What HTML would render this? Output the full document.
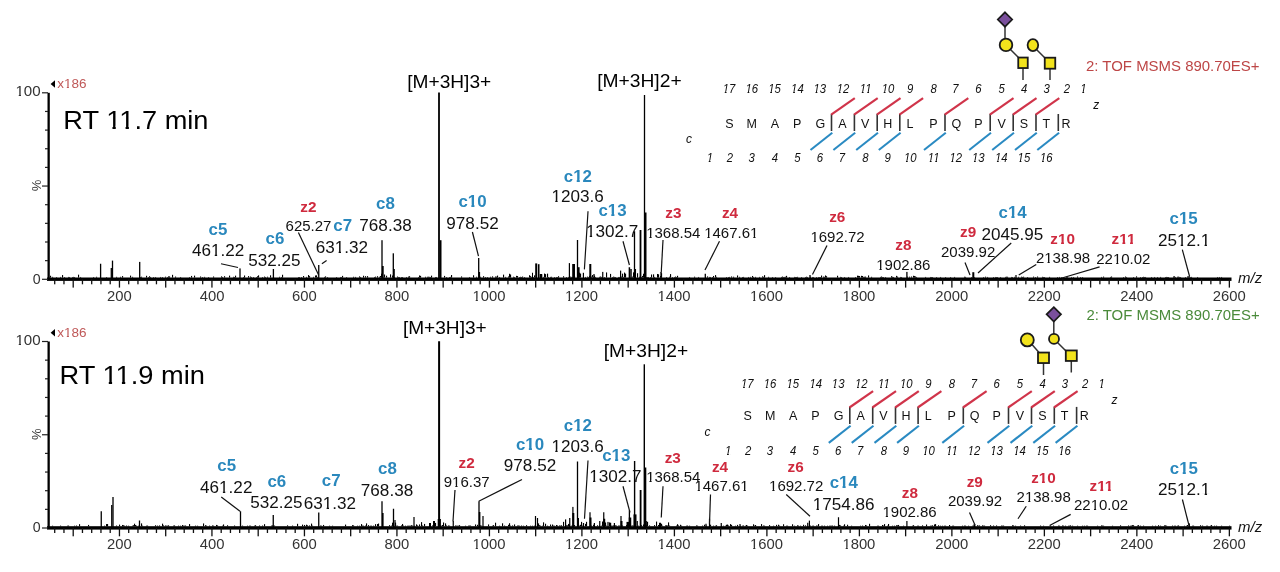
<!DOCTYPE html><html><head><meta charset="utf-8"><style>svg{filter:blur(0.3px)}html,body{margin:0;padding:0;background:#fff;width:1280px;height:572px;overflow:hidden;position:relative}</style></head><body><svg width="1280" height="572" viewBox="0 0 1280 572" style="position:absolute;left:0;top:0;font-family:'Liberation Sans',sans-serif">
<rect width="1280" height="572" fill="#fff"/>
<defs><mask id="mtx1" maskUnits="userSpaceOnUse" x="-50" y="-50" width="400" height="100"><rect x="-50" y="-50" width="400" height="100" fill="#fff"/><rect x="-0.22" y="-2.15" width="3.47" height="3.35" fill="#000"/><rect x="5.41" y="-2.15" width="2.73" height="3.35" fill="#000"/></mask><mask id="mtx2" maskUnits="userSpaceOnUse" x="-50" y="-50" width="400" height="100"><rect x="-50" y="-50" width="400" height="100" fill="#fff"/><rect x="-0.22" y="-2.15" width="3.47" height="3.35" fill="#000"/><rect x="5.41" y="-2.15" width="2.73" height="3.35" fill="#000"/></mask><mask id="mtx3" maskUnits="userSpaceOnUse" x="-50" y="-50" width="400" height="100"><rect x="-50" y="-50" width="400" height="100" fill="#fff"/><rect x="-0.22" y="-2.15" width="3.47" height="3.35" fill="#000"/><rect x="5.41" y="-2.15" width="2.73" height="3.35" fill="#000"/></mask><mask id="mtx4" maskUnits="userSpaceOnUse" x="-50" y="-50" width="400" height="100"><rect x="-50" y="-50" width="400" height="100" fill="#fff"/><rect x="-0.22" y="-2.15" width="3.47" height="3.35" fill="#000"/><rect x="5.41" y="-2.15" width="2.73" height="3.35" fill="#000"/></mask><mask id="mtx5" maskUnits="userSpaceOnUse" x="-50" y="-50" width="400" height="100"><rect x="-50" y="-50" width="400" height="100" fill="#fff"/><rect x="-0.22" y="-2.15" width="3.47" height="3.35" fill="#000"/><rect x="5.41" y="-2.15" width="2.73" height="3.35" fill="#000"/></mask><mask id="mtx6" maskUnits="userSpaceOnUse" x="-50" y="-50" width="400" height="100"><rect x="-50" y="-50" width="400" height="100" fill="#fff"/><rect x="18.40" y="-2.31" width="4.00" height="3.51" fill="#000"/><rect x="24.73" y="-2.31" width="3.16" height="3.51" fill="#000"/></mask><mask id="mtx7" maskUnits="userSpaceOnUse" x="-50" y="-50" width="400" height="100"><rect x="-50" y="-50" width="400" height="100" fill="#fff"/><rect x="18.40" y="-2.31" width="4.00" height="3.51" fill="#000"/><rect x="24.73" y="-2.31" width="3.16" height="3.51" fill="#000"/></mask><mask id="mtx8" maskUnits="userSpaceOnUse" x="-50" y="-50" width="400" height="100"><rect x="-50" y="-50" width="400" height="100" fill="#fff"/><rect x="-0.25" y="-2.31" width="4.00" height="3.51" fill="#000"/><rect x="6.08" y="-2.31" width="3.16" height="3.51" fill="#000"/></mask><mask id="mtx9" maskUnits="userSpaceOnUse" x="-50" y="-50" width="400" height="100"><rect x="-50" y="-50" width="400" height="100" fill="#fff"/><rect x="-0.25" y="-2.31" width="4.00" height="3.51" fill="#000"/><rect x="6.08" y="-2.31" width="3.16" height="3.51" fill="#000"/></mask><mask id="mtx10" maskUnits="userSpaceOnUse" x="-50" y="-50" width="400" height="100"><rect x="-50" y="-50" width="400" height="100" fill="#fff"/><rect x="-0.22" y="-2.17" width="3.52" height="3.37" fill="#000"/><rect x="5.48" y="-2.17" width="2.77" height="3.37" fill="#000"/></mask><mask id="mtx11" maskUnits="userSpaceOnUse" x="-50" y="-50" width="400" height="100"><rect x="-50" y="-50" width="400" height="100" fill="#fff"/><rect x="-0.22" y="-2.17" width="3.52" height="3.37" fill="#000"/><rect x="5.48" y="-2.17" width="2.77" height="3.37" fill="#000"/><rect x="45.65" y="-2.17" width="3.52" height="3.37" fill="#000"/><rect x="51.35" y="-2.17" width="2.77" height="3.37" fill="#000"/></mask><mask id="mtx12" maskUnits="userSpaceOnUse" x="-50" y="-50" width="400" height="100"><rect x="-50" y="-50" width="400" height="100" fill="#fff"/><rect x="-0.22" y="-2.17" width="3.52" height="3.37" fill="#000"/><rect x="5.48" y="-2.17" width="2.77" height="3.37" fill="#000"/></mask><mask id="mtx13" maskUnits="userSpaceOnUse" x="-50" y="-50" width="400" height="100"><rect x="-50" y="-50" width="400" height="100" fill="#fff"/><rect x="-0.22" y="-2.17" width="3.52" height="3.37" fill="#000"/><rect x="5.48" y="-2.17" width="2.77" height="3.37" fill="#000"/></mask><mask id="mtx14" maskUnits="userSpaceOnUse" x="-50" y="-50" width="400" height="100"><rect x="-50" y="-50" width="400" height="100" fill="#fff"/><rect x="8.10" y="-2.17" width="3.53" height="3.37" fill="#000"/><rect x="13.80" y="-2.17" width="2.78" height="3.37" fill="#000"/></mask><mask id="mtx15" maskUnits="userSpaceOnUse" x="-50" y="-50" width="400" height="100"><rect x="-50" y="-50" width="400" height="100" fill="#fff"/><rect x="16.45" y="-2.17" width="3.53" height="3.37" fill="#000"/><rect x="22.15" y="-2.17" width="2.78" height="3.37" fill="#000"/></mask><mask id="mtx16" maskUnits="userSpaceOnUse" x="-50" y="-50" width="400" height="100"><rect x="-50" y="-50" width="400" height="100" fill="#fff"/><rect x="18.40" y="-2.31" width="4.00" height="3.51" fill="#000"/><rect x="24.73" y="-2.31" width="3.16" height="3.51" fill="#000"/><rect x="41.75" y="-2.31" width="4.00" height="3.51" fill="#000"/><rect x="48.08" y="-2.31" width="3.16" height="3.51" fill="#000"/></mask><mask id="mtx17" maskUnits="userSpaceOnUse" x="-50" y="-50" width="400" height="100"><rect x="-50" y="-50" width="400" height="100" fill="#fff"/><rect x="8.97" y="-2.77" width="3.94" height="3.97" fill="#000"/><rect x="16.01" y="-2.77" width="3.10" height="3.97" fill="#000"/></mask><mask id="mtx18" maskUnits="userSpaceOnUse" x="-50" y="-50" width="400" height="100"><rect x="-50" y="-50" width="400" height="100" fill="#fff"/><rect x="8.97" y="-2.77" width="3.94" height="3.97" fill="#000"/><rect x="16.01" y="-2.77" width="3.10" height="3.97" fill="#000"/></mask><mask id="mtx19" maskUnits="userSpaceOnUse" x="-50" y="-50" width="400" height="100"><rect x="-50" y="-50" width="400" height="100" fill="#fff"/><rect x="8.97" y="-2.77" width="3.94" height="3.97" fill="#000"/><rect x="16.01" y="-2.77" width="3.10" height="3.97" fill="#000"/></mask><mask id="mtx20" maskUnits="userSpaceOnUse" x="-50" y="-50" width="400" height="100"><rect x="-50" y="-50" width="400" height="100" fill="#fff"/><rect x="8.97" y="-2.77" width="3.94" height="3.97" fill="#000"/><rect x="16.01" y="-2.77" width="3.10" height="3.97" fill="#000"/></mask><mask id="mtx21" maskUnits="userSpaceOnUse" x="-50" y="-50" width="400" height="100"><rect x="-50" y="-50" width="400" height="100" fill="#fff"/><rect x="8.97" y="-2.77" width="3.94" height="3.97" fill="#000"/><rect x="16.01" y="-2.77" width="3.10" height="3.97" fill="#000"/></mask><mask id="mtx22" maskUnits="userSpaceOnUse" x="-50" y="-50" width="400" height="100"><rect x="-50" y="-50" width="400" height="100" fill="#fff"/><rect x="7.26" y="-2.61" width="3.53" height="3.81" fill="#000"/><rect x="13.68" y="-2.61" width="2.76" height="3.81" fill="#000"/></mask><mask id="mtx23" maskUnits="userSpaceOnUse" x="-50" y="-50" width="400" height="100"><rect x="-50" y="-50" width="400" height="100" fill="#fff"/><rect x="7.26" y="-2.61" width="3.53" height="3.81" fill="#000"/><rect x="13.68" y="-2.61" width="2.76" height="3.81" fill="#000"/><rect x="14.91" y="-2.61" width="3.53" height="3.81" fill="#000"/><rect x="21.33" y="-2.61" width="2.76" height="3.81" fill="#000"/></mask><mask id="mtx24" maskUnits="userSpaceOnUse" x="-50" y="-50" width="400" height="100"><rect x="-50" y="-50" width="400" height="100" fill="#fff"/><rect x="-0.22" y="-2.15" width="3.47" height="3.35" fill="#000"/><rect x="5.41" y="-2.15" width="2.73" height="3.35" fill="#000"/></mask><mask id="mtx25" maskUnits="userSpaceOnUse" x="-50" y="-50" width="400" height="100"><rect x="-50" y="-50" width="400" height="100" fill="#fff"/><rect x="-0.22" y="-2.15" width="3.47" height="3.35" fill="#000"/><rect x="5.41" y="-2.15" width="2.73" height="3.35" fill="#000"/></mask><mask id="mtx26" maskUnits="userSpaceOnUse" x="-50" y="-50" width="400" height="100"><rect x="-50" y="-50" width="400" height="100" fill="#fff"/><rect x="-0.22" y="-2.15" width="3.47" height="3.35" fill="#000"/><rect x="5.41" y="-2.15" width="2.73" height="3.35" fill="#000"/></mask><mask id="mtx27" maskUnits="userSpaceOnUse" x="-50" y="-50" width="400" height="100"><rect x="-50" y="-50" width="400" height="100" fill="#fff"/><rect x="-0.22" y="-2.15" width="3.47" height="3.35" fill="#000"/><rect x="5.41" y="-2.15" width="2.73" height="3.35" fill="#000"/></mask><mask id="mtx28" maskUnits="userSpaceOnUse" x="-50" y="-50" width="400" height="100"><rect x="-50" y="-50" width="400" height="100" fill="#fff"/><rect x="-0.22" y="-2.15" width="3.47" height="3.35" fill="#000"/><rect x="5.41" y="-2.15" width="2.73" height="3.35" fill="#000"/></mask><mask id="mtx29" maskUnits="userSpaceOnUse" x="-50" y="-50" width="400" height="100"><rect x="-50" y="-50" width="400" height="100" fill="#fff"/><rect x="18.40" y="-2.31" width="4.00" height="3.51" fill="#000"/><rect x="24.73" y="-2.31" width="3.16" height="3.51" fill="#000"/></mask><mask id="mtx30" maskUnits="userSpaceOnUse" x="-50" y="-50" width="400" height="100"><rect x="-50" y="-50" width="400" height="100" fill="#fff"/><rect x="18.40" y="-2.31" width="4.00" height="3.51" fill="#000"/><rect x="24.73" y="-2.31" width="3.16" height="3.51" fill="#000"/></mask><mask id="mtx31" maskUnits="userSpaceOnUse" x="-50" y="-50" width="400" height="100"><rect x="-50" y="-50" width="400" height="100" fill="#fff"/><rect x="8.10" y="-2.17" width="3.53" height="3.37" fill="#000"/><rect x="13.80" y="-2.17" width="2.78" height="3.37" fill="#000"/></mask><mask id="mtx32" maskUnits="userSpaceOnUse" x="-50" y="-50" width="400" height="100"><rect x="-50" y="-50" width="400" height="100" fill="#fff"/><rect x="-0.25" y="-2.31" width="4.00" height="3.51" fill="#000"/><rect x="6.08" y="-2.31" width="3.16" height="3.51" fill="#000"/></mask><mask id="mtx33" maskUnits="userSpaceOnUse" x="-50" y="-50" width="400" height="100"><rect x="-50" y="-50" width="400" height="100" fill="#fff"/><rect x="-0.25" y="-2.31" width="4.00" height="3.51" fill="#000"/><rect x="6.08" y="-2.31" width="3.16" height="3.51" fill="#000"/></mask><mask id="mtx34" maskUnits="userSpaceOnUse" x="-50" y="-50" width="400" height="100"><rect x="-50" y="-50" width="400" height="100" fill="#fff"/><rect x="-0.22" y="-2.17" width="3.52" height="3.37" fill="#000"/><rect x="5.48" y="-2.17" width="2.77" height="3.37" fill="#000"/></mask><mask id="mtx35" maskUnits="userSpaceOnUse" x="-50" y="-50" width="400" height="100"><rect x="-50" y="-50" width="400" height="100" fill="#fff"/><rect x="-0.22" y="-2.17" width="3.52" height="3.37" fill="#000"/><rect x="5.48" y="-2.17" width="2.77" height="3.37" fill="#000"/><rect x="45.65" y="-2.17" width="3.52" height="3.37" fill="#000"/><rect x="51.35" y="-2.17" width="2.77" height="3.37" fill="#000"/></mask><mask id="mtx36" maskUnits="userSpaceOnUse" x="-50" y="-50" width="400" height="100"><rect x="-50" y="-50" width="400" height="100" fill="#fff"/><rect x="-0.22" y="-2.17" width="3.52" height="3.37" fill="#000"/><rect x="5.48" y="-2.17" width="2.77" height="3.37" fill="#000"/></mask><mask id="mtx37" maskUnits="userSpaceOnUse" x="-50" y="-50" width="400" height="100"><rect x="-50" y="-50" width="400" height="100" fill="#fff"/><rect x="-0.25" y="-2.31" width="4.00" height="3.51" fill="#000"/><rect x="6.08" y="-2.31" width="3.16" height="3.51" fill="#000"/></mask><mask id="mtx38" maskUnits="userSpaceOnUse" x="-50" y="-50" width="400" height="100"><rect x="-50" y="-50" width="400" height="100" fill="#fff"/><rect x="-0.22" y="-2.17" width="3.52" height="3.37" fill="#000"/><rect x="5.48" y="-2.17" width="2.77" height="3.37" fill="#000"/></mask><mask id="mtx39" maskUnits="userSpaceOnUse" x="-50" y="-50" width="400" height="100"><rect x="-50" y="-50" width="400" height="100" fill="#fff"/><rect x="8.10" y="-2.17" width="3.53" height="3.37" fill="#000"/><rect x="13.80" y="-2.17" width="2.78" height="3.37" fill="#000"/></mask><mask id="mtx40" maskUnits="userSpaceOnUse" x="-50" y="-50" width="400" height="100"><rect x="-50" y="-50" width="400" height="100" fill="#fff"/><rect x="16.45" y="-2.17" width="3.53" height="3.37" fill="#000"/><rect x="22.15" y="-2.17" width="2.78" height="3.37" fill="#000"/></mask><mask id="mtx41" maskUnits="userSpaceOnUse" x="-50" y="-50" width="400" height="100"><rect x="-50" y="-50" width="400" height="100" fill="#fff"/><rect x="18.40" y="-2.31" width="4.00" height="3.51" fill="#000"/><rect x="24.73" y="-2.31" width="3.16" height="3.51" fill="#000"/><rect x="41.75" y="-2.31" width="4.00" height="3.51" fill="#000"/><rect x="48.08" y="-2.31" width="3.16" height="3.51" fill="#000"/></mask><mask id="mtx42" maskUnits="userSpaceOnUse" x="-50" y="-50" width="400" height="100"><rect x="-50" y="-50" width="400" height="100" fill="#fff"/><rect x="8.97" y="-2.77" width="3.94" height="3.97" fill="#000"/><rect x="16.01" y="-2.77" width="3.10" height="3.97" fill="#000"/></mask><mask id="mtx43" maskUnits="userSpaceOnUse" x="-50" y="-50" width="400" height="100"><rect x="-50" y="-50" width="400" height="100" fill="#fff"/><rect x="8.97" y="-2.77" width="3.94" height="3.97" fill="#000"/><rect x="16.01" y="-2.77" width="3.10" height="3.97" fill="#000"/></mask><mask id="mtx44" maskUnits="userSpaceOnUse" x="-50" y="-50" width="400" height="100"><rect x="-50" y="-50" width="400" height="100" fill="#fff"/><rect x="8.97" y="-2.77" width="3.94" height="3.97" fill="#000"/><rect x="16.01" y="-2.77" width="3.10" height="3.97" fill="#000"/></mask><mask id="mtx45" maskUnits="userSpaceOnUse" x="-50" y="-50" width="400" height="100"><rect x="-50" y="-50" width="400" height="100" fill="#fff"/><rect x="8.97" y="-2.77" width="3.94" height="3.97" fill="#000"/><rect x="16.01" y="-2.77" width="3.10" height="3.97" fill="#000"/></mask><mask id="mtx46" maskUnits="userSpaceOnUse" x="-50" y="-50" width="400" height="100"><rect x="-50" y="-50" width="400" height="100" fill="#fff"/><rect x="8.97" y="-2.77" width="3.94" height="3.97" fill="#000"/><rect x="16.01" y="-2.77" width="3.10" height="3.97" fill="#000"/></mask><mask id="mtx47" maskUnits="userSpaceOnUse" x="-50" y="-50" width="400" height="100"><rect x="-50" y="-50" width="400" height="100" fill="#fff"/><rect x="7.26" y="-2.61" width="3.53" height="3.81" fill="#000"/><rect x="13.68" y="-2.61" width="2.76" height="3.81" fill="#000"/></mask><mask id="mtx48" maskUnits="userSpaceOnUse" x="-50" y="-50" width="400" height="100"><rect x="-50" y="-50" width="400" height="100" fill="#fff"/><rect x="7.26" y="-2.61" width="3.53" height="3.81" fill="#000"/><rect x="13.68" y="-2.61" width="2.76" height="3.81" fill="#000"/><rect x="14.91" y="-2.61" width="3.53" height="3.81" fill="#000"/><rect x="21.33" y="-2.61" width="2.76" height="3.81" fill="#000"/></mask><mask id="mtx49" maskUnits="userSpaceOnUse" x="-50" y="-50" width="400" height="100"><rect x="-50" y="-50" width="400" height="100" fill="#fff"/><rect x="38.97" y="-2.95" width="6.17" height="4.15" fill="#000"/><rect x="48.17" y="-2.95" width="4.92" height="4.15" fill="#000"/><rect x="51.02" y="-2.95" width="6.17" height="4.15" fill="#000"/><rect x="60.22" y="-2.95" width="4.92" height="4.15" fill="#000"/></mask><mask id="mtx50" maskUnits="userSpaceOnUse" x="-50" y="-50" width="400" height="100"><rect x="-50" y="-50" width="400" height="100" fill="#fff"/><rect x="38.96" y="-2.95" width="6.17" height="4.15" fill="#000"/><rect x="48.16" y="-2.95" width="4.92" height="4.15" fill="#000"/><rect x="51.00" y="-2.95" width="6.17" height="4.15" fill="#000"/><rect x="60.20" y="-2.95" width="4.92" height="4.15" fill="#000"/></mask><mask id="mtx51" maskUnits="userSpaceOnUse" x="-50" y="-50" width="400" height="100"><rect x="-50" y="-50" width="400" height="100" fill="#fff"/><rect x="-0.76" y="-1.98" width="3.01" height="3.18" fill="#000"/><rect x="4.23" y="-1.98" width="2.26" height="3.18" fill="#000"/></mask><mask id="mtx52" maskUnits="userSpaceOnUse" x="-50" y="-50" width="400" height="100"><rect x="-50" y="-50" width="400" height="100" fill="#fff"/><rect x="-0.76" y="-1.98" width="3.01" height="3.18" fill="#000"/><rect x="4.23" y="-1.98" width="2.26" height="3.18" fill="#000"/></mask><mask id="mtx53" maskUnits="userSpaceOnUse" x="-50" y="-50" width="400" height="100"><rect x="-50" y="-50" width="400" height="100" fill="#fff"/><rect x="-0.76" y="-1.98" width="3.01" height="3.18" fill="#000"/><rect x="4.23" y="-1.98" width="2.26" height="3.18" fill="#000"/></mask><mask id="mtx54" maskUnits="userSpaceOnUse" x="-50" y="-50" width="400" height="100"><rect x="-50" y="-50" width="400" height="100" fill="#fff"/><rect x="-0.76" y="-1.98" width="3.01" height="3.18" fill="#000"/><rect x="4.23" y="-1.98" width="2.26" height="3.18" fill="#000"/></mask><mask id="mtx55" maskUnits="userSpaceOnUse" x="-50" y="-50" width="400" height="100"><rect x="-50" y="-50" width="400" height="100" fill="#fff"/><rect x="-0.76" y="-1.98" width="3.01" height="3.18" fill="#000"/><rect x="4.23" y="-1.98" width="2.26" height="3.18" fill="#000"/></mask><mask id="mtx56" maskUnits="userSpaceOnUse" x="-50" y="-50" width="400" height="100"><rect x="-50" y="-50" width="400" height="100" fill="#fff"/><rect x="-0.76" y="-1.98" width="3.01" height="3.18" fill="#000"/><rect x="4.23" y="-1.98" width="2.26" height="3.18" fill="#000"/></mask><mask id="mtx57" maskUnits="userSpaceOnUse" x="-50" y="-50" width="400" height="100"><rect x="-50" y="-50" width="400" height="100" fill="#fff"/><rect x="-0.76" y="-1.98" width="3.01" height="3.18" fill="#000"/><rect x="4.23" y="-1.98" width="2.26" height="3.18" fill="#000"/><rect x="5.30" y="-1.98" width="3.02" height="3.18" fill="#000"/><rect x="10.29" y="-1.98" width="2.26" height="3.18" fill="#000"/></mask><mask id="mtx58" maskUnits="userSpaceOnUse" x="-50" y="-50" width="400" height="100"><rect x="-50" y="-50" width="400" height="100" fill="#fff"/><rect x="-0.76" y="-1.98" width="3.01" height="3.18" fill="#000"/><rect x="4.23" y="-1.98" width="2.26" height="3.18" fill="#000"/></mask><mask id="mtx59" maskUnits="userSpaceOnUse" x="-50" y="-50" width="400" height="100"><rect x="-50" y="-50" width="400" height="100" fill="#fff"/><rect x="-0.76" y="-1.98" width="3.01" height="3.18" fill="#000"/><rect x="4.23" y="-1.98" width="2.26" height="3.18" fill="#000"/></mask><mask id="mtx60" maskUnits="userSpaceOnUse" x="-50" y="-50" width="400" height="100"><rect x="-50" y="-50" width="400" height="100" fill="#fff"/><rect x="-0.76" y="-1.98" width="3.01" height="3.18" fill="#000"/><rect x="4.23" y="-1.98" width="2.26" height="3.18" fill="#000"/></mask><mask id="mtx61" maskUnits="userSpaceOnUse" x="-50" y="-50" width="400" height="100"><rect x="-50" y="-50" width="400" height="100" fill="#fff"/><rect x="-0.76" y="-1.98" width="3.01" height="3.18" fill="#000"/><rect x="4.23" y="-1.98" width="2.26" height="3.18" fill="#000"/></mask><mask id="mtx62" maskUnits="userSpaceOnUse" x="-50" y="-50" width="400" height="100"><rect x="-50" y="-50" width="400" height="100" fill="#fff"/><rect x="-0.76" y="-1.98" width="3.01" height="3.18" fill="#000"/><rect x="4.23" y="-1.98" width="2.26" height="3.18" fill="#000"/><rect x="5.30" y="-1.98" width="3.02" height="3.18" fill="#000"/><rect x="10.29" y="-1.98" width="2.26" height="3.18" fill="#000"/></mask><mask id="mtx63" maskUnits="userSpaceOnUse" x="-50" y="-50" width="400" height="100"><rect x="-50" y="-50" width="400" height="100" fill="#fff"/><rect x="-0.76" y="-1.98" width="3.01" height="3.18" fill="#000"/><rect x="4.23" y="-1.98" width="2.26" height="3.18" fill="#000"/></mask><mask id="mtx64" maskUnits="userSpaceOnUse" x="-50" y="-50" width="400" height="100"><rect x="-50" y="-50" width="400" height="100" fill="#fff"/><rect x="-0.76" y="-1.98" width="3.01" height="3.18" fill="#000"/><rect x="4.23" y="-1.98" width="2.26" height="3.18" fill="#000"/></mask><mask id="mtx65" maskUnits="userSpaceOnUse" x="-50" y="-50" width="400" height="100"><rect x="-50" y="-50" width="400" height="100" fill="#fff"/><rect x="-0.76" y="-1.98" width="3.01" height="3.18" fill="#000"/><rect x="4.23" y="-1.98" width="2.26" height="3.18" fill="#000"/></mask><mask id="mtx66" maskUnits="userSpaceOnUse" x="-50" y="-50" width="400" height="100"><rect x="-50" y="-50" width="400" height="100" fill="#fff"/><rect x="-0.76" y="-1.98" width="3.01" height="3.18" fill="#000"/><rect x="4.23" y="-1.98" width="2.26" height="3.18" fill="#000"/></mask><mask id="mtx67" maskUnits="userSpaceOnUse" x="-50" y="-50" width="400" height="100"><rect x="-50" y="-50" width="400" height="100" fill="#fff"/><rect x="-0.76" y="-1.98" width="3.01" height="3.18" fill="#000"/><rect x="4.23" y="-1.98" width="2.26" height="3.18" fill="#000"/></mask><mask id="mtx68" maskUnits="userSpaceOnUse" x="-50" y="-50" width="400" height="100"><rect x="-50" y="-50" width="400" height="100" fill="#fff"/><rect x="-0.76" y="-1.98" width="3.01" height="3.18" fill="#000"/><rect x="4.23" y="-1.98" width="2.26" height="3.18" fill="#000"/></mask><mask id="mtx69" maskUnits="userSpaceOnUse" x="-50" y="-50" width="400" height="100"><rect x="-50" y="-50" width="400" height="100" fill="#fff"/><rect x="-0.76" y="-1.98" width="3.01" height="3.18" fill="#000"/><rect x="4.23" y="-1.98" width="2.26" height="3.18" fill="#000"/></mask><mask id="mtx70" maskUnits="userSpaceOnUse" x="-50" y="-50" width="400" height="100"><rect x="-50" y="-50" width="400" height="100" fill="#fff"/><rect x="-0.76" y="-1.98" width="3.01" height="3.18" fill="#000"/><rect x="4.23" y="-1.98" width="2.26" height="3.18" fill="#000"/></mask><mask id="mtx71" maskUnits="userSpaceOnUse" x="-50" y="-50" width="400" height="100"><rect x="-50" y="-50" width="400" height="100" fill="#fff"/><rect x="-0.76" y="-1.98" width="3.01" height="3.18" fill="#000"/><rect x="4.23" y="-1.98" width="2.26" height="3.18" fill="#000"/></mask><mask id="mtx72" maskUnits="userSpaceOnUse" x="-50" y="-50" width="400" height="100"><rect x="-50" y="-50" width="400" height="100" fill="#fff"/><rect x="-0.76" y="-1.98" width="3.01" height="3.18" fill="#000"/><rect x="4.23" y="-1.98" width="2.26" height="3.18" fill="#000"/></mask><mask id="mtx73" maskUnits="userSpaceOnUse" x="-50" y="-50" width="400" height="100"><rect x="-50" y="-50" width="400" height="100" fill="#fff"/><rect x="-0.76" y="-1.98" width="3.01" height="3.18" fill="#000"/><rect x="4.23" y="-1.98" width="2.26" height="3.18" fill="#000"/></mask><mask id="mtx74" maskUnits="userSpaceOnUse" x="-50" y="-50" width="400" height="100"><rect x="-50" y="-50" width="400" height="100" fill="#fff"/><rect x="-0.76" y="-1.98" width="3.01" height="3.18" fill="#000"/><rect x="4.23" y="-1.98" width="2.26" height="3.18" fill="#000"/><rect x="5.30" y="-1.98" width="3.02" height="3.18" fill="#000"/><rect x="10.29" y="-1.98" width="2.26" height="3.18" fill="#000"/></mask><mask id="mtx75" maskUnits="userSpaceOnUse" x="-50" y="-50" width="400" height="100"><rect x="-50" y="-50" width="400" height="100" fill="#fff"/><rect x="-0.76" y="-1.98" width="3.01" height="3.18" fill="#000"/><rect x="4.23" y="-1.98" width="2.26" height="3.18" fill="#000"/></mask><mask id="mtx76" maskUnits="userSpaceOnUse" x="-50" y="-50" width="400" height="100"><rect x="-50" y="-50" width="400" height="100" fill="#fff"/><rect x="-0.76" y="-1.98" width="3.01" height="3.18" fill="#000"/><rect x="4.23" y="-1.98" width="2.26" height="3.18" fill="#000"/></mask><mask id="mtx77" maskUnits="userSpaceOnUse" x="-50" y="-50" width="400" height="100"><rect x="-50" y="-50" width="400" height="100" fill="#fff"/><rect x="-0.76" y="-1.98" width="3.01" height="3.18" fill="#000"/><rect x="4.23" y="-1.98" width="2.26" height="3.18" fill="#000"/></mask><mask id="mtx78" maskUnits="userSpaceOnUse" x="-50" y="-50" width="400" height="100"><rect x="-50" y="-50" width="400" height="100" fill="#fff"/><rect x="-0.76" y="-1.98" width="3.01" height="3.18" fill="#000"/><rect x="4.23" y="-1.98" width="2.26" height="3.18" fill="#000"/></mask><mask id="mtx79" maskUnits="userSpaceOnUse" x="-50" y="-50" width="400" height="100"><rect x="-50" y="-50" width="400" height="100" fill="#fff"/><rect x="-0.76" y="-1.98" width="3.01" height="3.18" fill="#000"/><rect x="4.23" y="-1.98" width="2.26" height="3.18" fill="#000"/><rect x="5.30" y="-1.98" width="3.02" height="3.18" fill="#000"/><rect x="10.29" y="-1.98" width="2.26" height="3.18" fill="#000"/></mask><mask id="mtx80" maskUnits="userSpaceOnUse" x="-50" y="-50" width="400" height="100"><rect x="-50" y="-50" width="400" height="100" fill="#fff"/><rect x="-0.76" y="-1.98" width="3.01" height="3.18" fill="#000"/><rect x="4.23" y="-1.98" width="2.26" height="3.18" fill="#000"/></mask><mask id="mtx81" maskUnits="userSpaceOnUse" x="-50" y="-50" width="400" height="100"><rect x="-50" y="-50" width="400" height="100" fill="#fff"/><rect x="-0.76" y="-1.98" width="3.01" height="3.18" fill="#000"/><rect x="4.23" y="-1.98" width="2.26" height="3.18" fill="#000"/></mask><mask id="mtx82" maskUnits="userSpaceOnUse" x="-50" y="-50" width="400" height="100"><rect x="-50" y="-50" width="400" height="100" fill="#fff"/><rect x="-0.76" y="-1.98" width="3.01" height="3.18" fill="#000"/><rect x="4.23" y="-1.98" width="2.26" height="3.18" fill="#000"/></mask><mask id="mtx83" maskUnits="userSpaceOnUse" x="-50" y="-50" width="400" height="100"><rect x="-50" y="-50" width="400" height="100" fill="#fff"/><rect x="-0.76" y="-1.98" width="3.01" height="3.18" fill="#000"/><rect x="4.23" y="-1.98" width="2.26" height="3.18" fill="#000"/></mask><mask id="mtx84" maskUnits="userSpaceOnUse" x="-50" y="-50" width="400" height="100"><rect x="-50" y="-50" width="400" height="100" fill="#fff"/><rect x="-0.76" y="-1.98" width="3.01" height="3.18" fill="#000"/><rect x="4.23" y="-1.98" width="2.26" height="3.18" fill="#000"/></mask><mask id="mtx85" maskUnits="userSpaceOnUse" x="-50" y="-50" width="400" height="100"><rect x="-50" y="-50" width="400" height="100" fill="#fff"/><rect x="6.20" y="-2.00" width="2.94" height="3.20" fill="#000"/><rect x="11.13" y="-2.00" width="2.30" height="3.20" fill="#000"/></mask><mask id="mtx86" maskUnits="userSpaceOnUse" x="-50" y="-50" width="400" height="100"><rect x="-50" y="-50" width="400" height="100" fill="#fff"/><rect x="-0.21" y="-2.11" width="3.31" height="3.31" fill="#000"/><rect x="5.21" y="-2.11" width="2.60" height="3.31" fill="#000"/></mask><mask id="mtx87" maskUnits="userSpaceOnUse" x="-50" y="-50" width="400" height="100"><rect x="-50" y="-50" width="400" height="100" fill="#fff"/><rect x="6.20" y="-2.00" width="2.94" height="3.20" fill="#000"/><rect x="11.13" y="-2.00" width="2.30" height="3.20" fill="#000"/></mask><mask id="mtx88" maskUnits="userSpaceOnUse" x="-50" y="-50" width="400" height="100"><rect x="-50" y="-50" width="400" height="100" fill="#fff"/><rect x="-0.21" y="-2.11" width="3.31" height="3.31" fill="#000"/><rect x="5.21" y="-2.11" width="2.60" height="3.31" fill="#000"/></mask></defs>
<rect x="47" y="277.50" width="1184.50" height="3.4" fill="#000"/>
<rect x="47.5" y="92.80" width="2.3" height="186.50" fill="#000"/>
<rect x="42.00" y="278.70" width="6" height="1.2" fill="#222"/>
<rect x="45.00" y="260.05" width="3" height="1.2" fill="#222"/>
<rect x="45.00" y="241.40" width="3" height="1.2" fill="#222"/>
<rect x="45.00" y="222.75" width="3" height="1.2" fill="#222"/>
<rect x="45.00" y="204.10" width="3" height="1.2" fill="#222"/>
<rect x="42.00" y="185.45" width="6" height="1.2" fill="#222"/>
<rect x="45.00" y="166.80" width="3" height="1.2" fill="#222"/>
<rect x="45.00" y="148.15" width="3" height="1.2" fill="#222"/>
<rect x="45.00" y="129.50" width="3" height="1.2" fill="#222"/>
<rect x="45.00" y="110.85" width="3" height="1.2" fill="#222"/>
<rect x="42.00" y="92.20" width="6" height="1.2" fill="#222"/>
<rect x="54.06" y="279.30" width="1.3" height="5" fill="#111"/>
<rect x="63.31" y="279.30" width="1.3" height="5" fill="#111"/>
<rect x="72.56" y="279.30" width="1.3" height="8.3" fill="#111"/>
<rect x="81.81" y="279.30" width="1.3" height="5" fill="#111"/>
<rect x="91.05" y="279.30" width="1.3" height="5" fill="#111"/>
<rect x="100.30" y="279.30" width="1.3" height="5" fill="#111"/>
<rect x="109.55" y="279.30" width="1.3" height="5" fill="#111"/>
<rect x="118.80" y="279.30" width="1.3" height="8.3" fill="#111"/>
<rect x="128.05" y="279.30" width="1.3" height="5" fill="#111"/>
<rect x="137.30" y="279.30" width="1.3" height="5" fill="#111"/>
<rect x="146.55" y="279.30" width="1.3" height="5" fill="#111"/>
<rect x="155.80" y="279.30" width="1.3" height="5" fill="#111"/>
<rect x="165.05" y="279.30" width="1.3" height="8.3" fill="#111"/>
<rect x="174.30" y="279.30" width="1.3" height="5" fill="#111"/>
<rect x="183.55" y="279.30" width="1.3" height="5" fill="#111"/>
<rect x="192.80" y="279.30" width="1.3" height="5" fill="#111"/>
<rect x="202.04" y="279.30" width="1.3" height="5" fill="#111"/>
<rect x="211.29" y="279.30" width="1.3" height="8.3" fill="#111"/>
<rect x="220.54" y="279.30" width="1.3" height="5" fill="#111"/>
<rect x="229.79" y="279.30" width="1.3" height="5" fill="#111"/>
<rect x="239.04" y="279.30" width="1.3" height="5" fill="#111"/>
<rect x="248.29" y="279.30" width="1.3" height="5" fill="#111"/>
<rect x="257.54" y="279.30" width="1.3" height="8.3" fill="#111"/>
<rect x="266.79" y="279.30" width="1.3" height="5" fill="#111"/>
<rect x="276.04" y="279.30" width="1.3" height="5" fill="#111"/>
<rect x="285.29" y="279.30" width="1.3" height="5" fill="#111"/>
<rect x="294.54" y="279.30" width="1.3" height="5" fill="#111"/>
<rect x="303.79" y="279.30" width="1.3" height="8.3" fill="#111"/>
<rect x="313.04" y="279.30" width="1.3" height="5" fill="#111"/>
<rect x="322.28" y="279.30" width="1.3" height="5" fill="#111"/>
<rect x="331.53" y="279.30" width="1.3" height="5" fill="#111"/>
<rect x="340.78" y="279.30" width="1.3" height="5" fill="#111"/>
<rect x="350.03" y="279.30" width="1.3" height="8.3" fill="#111"/>
<rect x="359.28" y="279.30" width="1.3" height="5" fill="#111"/>
<rect x="368.53" y="279.30" width="1.3" height="5" fill="#111"/>
<rect x="377.78" y="279.30" width="1.3" height="5" fill="#111"/>
<rect x="387.03" y="279.30" width="1.3" height="5" fill="#111"/>
<rect x="396.28" y="279.30" width="1.3" height="8.3" fill="#111"/>
<rect x="405.53" y="279.30" width="1.3" height="5" fill="#111"/>
<rect x="414.78" y="279.30" width="1.3" height="5" fill="#111"/>
<rect x="424.03" y="279.30" width="1.3" height="5" fill="#111"/>
<rect x="433.27" y="279.30" width="1.3" height="5" fill="#111"/>
<rect x="442.52" y="279.30" width="1.3" height="8.3" fill="#111"/>
<rect x="451.77" y="279.30" width="1.3" height="5" fill="#111"/>
<rect x="461.02" y="279.30" width="1.3" height="5" fill="#111"/>
<rect x="470.27" y="279.30" width="1.3" height="5" fill="#111"/>
<rect x="479.52" y="279.30" width="1.3" height="5" fill="#111"/>
<rect x="488.77" y="279.30" width="1.3" height="8.3" fill="#111"/>
<rect x="498.02" y="279.30" width="1.3" height="5" fill="#111"/>
<rect x="507.27" y="279.30" width="1.3" height="5" fill="#111"/>
<rect x="516.52" y="279.30" width="1.3" height="5" fill="#111"/>
<rect x="525.77" y="279.30" width="1.3" height="5" fill="#111"/>
<rect x="535.02" y="279.30" width="1.3" height="8.3" fill="#111"/>
<rect x="544.27" y="279.30" width="1.3" height="5" fill="#111"/>
<rect x="553.51" y="279.30" width="1.3" height="5" fill="#111"/>
<rect x="562.76" y="279.30" width="1.3" height="5" fill="#111"/>
<rect x="572.01" y="279.30" width="1.3" height="5" fill="#111"/>
<rect x="581.26" y="279.30" width="1.3" height="8.3" fill="#111"/>
<rect x="590.51" y="279.30" width="1.3" height="5" fill="#111"/>
<rect x="599.76" y="279.30" width="1.3" height="5" fill="#111"/>
<rect x="609.01" y="279.30" width="1.3" height="5" fill="#111"/>
<rect x="618.26" y="279.30" width="1.3" height="5" fill="#111"/>
<rect x="627.51" y="279.30" width="1.3" height="8.3" fill="#111"/>
<rect x="636.76" y="279.30" width="1.3" height="5" fill="#111"/>
<rect x="646.01" y="279.30" width="1.3" height="5" fill="#111"/>
<rect x="655.26" y="279.30" width="1.3" height="5" fill="#111"/>
<rect x="664.50" y="279.30" width="1.3" height="5" fill="#111"/>
<rect x="673.75" y="279.30" width="1.3" height="8.3" fill="#111"/>
<rect x="683.00" y="279.30" width="1.3" height="5" fill="#111"/>
<rect x="692.25" y="279.30" width="1.3" height="5" fill="#111"/>
<rect x="701.50" y="279.30" width="1.3" height="5" fill="#111"/>
<rect x="710.75" y="279.30" width="1.3" height="5" fill="#111"/>
<rect x="720.00" y="279.30" width="1.3" height="8.3" fill="#111"/>
<rect x="729.25" y="279.30" width="1.3" height="5" fill="#111"/>
<rect x="738.50" y="279.30" width="1.3" height="5" fill="#111"/>
<rect x="747.75" y="279.30" width="1.3" height="5" fill="#111"/>
<rect x="757.00" y="279.30" width="1.3" height="5" fill="#111"/>
<rect x="766.25" y="279.30" width="1.3" height="8.3" fill="#111"/>
<rect x="775.50" y="279.30" width="1.3" height="5" fill="#111"/>
<rect x="784.74" y="279.30" width="1.3" height="5" fill="#111"/>
<rect x="793.99" y="279.30" width="1.3" height="5" fill="#111"/>
<rect x="803.24" y="279.30" width="1.3" height="5" fill="#111"/>
<rect x="812.49" y="279.30" width="1.3" height="8.3" fill="#111"/>
<rect x="821.74" y="279.30" width="1.3" height="5" fill="#111"/>
<rect x="830.99" y="279.30" width="1.3" height="5" fill="#111"/>
<rect x="840.24" y="279.30" width="1.3" height="5" fill="#111"/>
<rect x="849.49" y="279.30" width="1.3" height="5" fill="#111"/>
<rect x="858.74" y="279.30" width="1.3" height="8.3" fill="#111"/>
<rect x="867.99" y="279.30" width="1.3" height="5" fill="#111"/>
<rect x="877.24" y="279.30" width="1.3" height="5" fill="#111"/>
<rect x="886.49" y="279.30" width="1.3" height="5" fill="#111"/>
<rect x="895.73" y="279.30" width="1.3" height="5" fill="#111"/>
<rect x="904.98" y="279.30" width="1.3" height="8.3" fill="#111"/>
<rect x="914.23" y="279.30" width="1.3" height="5" fill="#111"/>
<rect x="923.48" y="279.30" width="1.3" height="5" fill="#111"/>
<rect x="932.73" y="279.30" width="1.3" height="5" fill="#111"/>
<rect x="941.98" y="279.30" width="1.3" height="5" fill="#111"/>
<rect x="951.23" y="279.30" width="1.3" height="8.3" fill="#111"/>
<rect x="960.48" y="279.30" width="1.3" height="5" fill="#111"/>
<rect x="969.73" y="279.30" width="1.3" height="5" fill="#111"/>
<rect x="978.98" y="279.30" width="1.3" height="5" fill="#111"/>
<rect x="988.23" y="279.30" width="1.3" height="5" fill="#111"/>
<rect x="997.48" y="279.30" width="1.3" height="8.3" fill="#111"/>
<rect x="1006.73" y="279.30" width="1.3" height="5" fill="#111"/>
<rect x="1015.97" y="279.30" width="1.3" height="5" fill="#111"/>
<rect x="1025.22" y="279.30" width="1.3" height="5" fill="#111"/>
<rect x="1034.47" y="279.30" width="1.3" height="5" fill="#111"/>
<rect x="1043.72" y="279.30" width="1.3" height="8.3" fill="#111"/>
<rect x="1052.97" y="279.30" width="1.3" height="5" fill="#111"/>
<rect x="1062.22" y="279.30" width="1.3" height="5" fill="#111"/>
<rect x="1071.47" y="279.30" width="1.3" height="5" fill="#111"/>
<rect x="1080.72" y="279.30" width="1.3" height="5" fill="#111"/>
<rect x="1089.97" y="279.30" width="1.3" height="8.3" fill="#111"/>
<rect x="1099.22" y="279.30" width="1.3" height="5" fill="#111"/>
<rect x="1108.47" y="279.30" width="1.3" height="5" fill="#111"/>
<rect x="1117.72" y="279.30" width="1.3" height="5" fill="#111"/>
<rect x="1126.96" y="279.30" width="1.3" height="5" fill="#111"/>
<rect x="1136.21" y="279.30" width="1.3" height="8.3" fill="#111"/>
<rect x="1145.46" y="279.30" width="1.3" height="5" fill="#111"/>
<rect x="1154.71" y="279.30" width="1.3" height="5" fill="#111"/>
<rect x="1163.96" y="279.30" width="1.3" height="5" fill="#111"/>
<rect x="1173.21" y="279.30" width="1.3" height="5" fill="#111"/>
<rect x="1182.46" y="279.30" width="1.3" height="8.3" fill="#111"/>
<rect x="1191.71" y="279.30" width="1.3" height="5" fill="#111"/>
<rect x="1200.96" y="279.30" width="1.3" height="5" fill="#111"/>
<rect x="1210.21" y="279.30" width="1.3" height="5" fill="#111"/>
<rect x="1219.46" y="279.30" width="1.3" height="5" fill="#111"/>
<rect x="1228.71" y="279.30" width="1.3" height="8.3" fill="#111"/>
<text transform="translate(106.97,300.50) scale(1.0000,1)" style="font-size:14.80px;" fill="#333" >200</text>
<text transform="translate(199.68,300.50) scale(1.0000,1)" style="font-size:14.80px;" fill="#333" >400</text>
<text transform="translate(291.95,300.50) scale(1.0000,1)" style="font-size:14.80px;" fill="#333" >600</text>
<text transform="translate(384.48,300.50) scale(1.0000,1)" style="font-size:14.80px;" fill="#333" >800</text>
<text id="tx1" mask="url(#mtx1)" transform="translate(472.46,300.50) scale(1.0000,1)" style="font-size:14.80px;" fill="#333" >1000</text>
<text id="tx2" mask="url(#mtx2)" transform="translate(564.95,300.50) scale(1.0000,1)" style="font-size:14.80px;" fill="#333" >1200</text>
<text id="tx3" mask="url(#mtx3)" transform="translate(657.44,300.50) scale(1.0000,1)" style="font-size:14.80px;" fill="#333" >1400</text>
<text id="tx4" mask="url(#mtx4)" transform="translate(749.94,300.50) scale(1.0000,1)" style="font-size:14.80px;" fill="#333" >1600</text>
<text id="tx5" mask="url(#mtx5)" transform="translate(842.43,300.50) scale(1.0000,1)" style="font-size:14.80px;" fill="#333" >1800</text>
<text transform="translate(935.25,300.50) scale(1.0000,1)" style="font-size:14.80px;" fill="#333" >2000</text>
<text transform="translate(1027.75,300.50) scale(1.0000,1)" style="font-size:14.80px;" fill="#333" >2200</text>
<text transform="translate(1120.24,300.50) scale(1.0000,1)" style="font-size:14.80px;" fill="#333" >2400</text>
<text transform="translate(1212.73,300.50) scale(1.0000,1)" style="font-size:14.80px;" fill="#333" >2600</text>
<rect x="50.0" y="275.76" width="1.1" height="1.84" fill="#000"/>
<rect x="52.0" y="276.86" width="1.1" height="0.74" fill="#000"/>
<rect x="56.0" y="277.00" width="1.1" height="0.60" fill="#000"/>
<rect x="60.0" y="276.91" width="1.1" height="0.69" fill="#000"/>
<rect x="62.0" y="275.08" width="1.1" height="2.52" fill="#000"/>
<rect x="64.0" y="277.00" width="1.1" height="0.60" fill="#000"/>
<rect x="68.0" y="276.92" width="1.1" height="0.68" fill="#000"/>
<rect x="69.0" y="276.99" width="1.1" height="0.61" fill="#000"/>
<rect x="72.0" y="276.99" width="1.1" height="0.61" fill="#000"/>
<rect x="73.0" y="276.89" width="1.1" height="0.71" fill="#000"/>
<rect x="74.0" y="277.00" width="1.1" height="0.60" fill="#000"/>
<rect x="78.0" y="274.67" width="1.1" height="2.93" fill="#000"/>
<rect x="80.0" y="276.97" width="1.1" height="0.63" fill="#000"/>
<rect x="93.0" y="276.99" width="1.1" height="0.61" fill="#000"/>
<rect x="96.0" y="276.78" width="1.1" height="0.82" fill="#000"/>
<rect x="106.0" y="277.00" width="1.1" height="0.60" fill="#000"/>
<rect x="111.0" y="276.85" width="1.1" height="0.75" fill="#000"/>
<rect x="116.0" y="276.83" width="1.1" height="0.77" fill="#000"/>
<rect x="120.0" y="276.78" width="1.1" height="0.82" fill="#000"/>
<rect x="122.0" y="276.09" width="1.1" height="1.51" fill="#000"/>
<rect x="130.0" y="275.62" width="1.1" height="1.98" fill="#000"/>
<rect x="132.0" y="276.84" width="1.1" height="0.76" fill="#000"/>
<rect x="140.0" y="276.99" width="1.1" height="0.61" fill="#000"/>
<rect x="141.0" y="276.72" width="1.1" height="0.88" fill="#000"/>
<rect x="146.0" y="275.80" width="1.1" height="1.80" fill="#000"/>
<rect x="148.0" y="277.00" width="1.1" height="0.60" fill="#000"/>
<rect x="149.0" y="276.22" width="1.1" height="1.38" fill="#000"/>
<rect x="150.0" y="277.00" width="1.1" height="0.60" fill="#000"/>
<rect x="153.0" y="277.00" width="1.1" height="0.60" fill="#000"/>
<rect x="155.0" y="276.99" width="1.1" height="0.61" fill="#000"/>
<rect x="160.0" y="276.95" width="1.1" height="0.65" fill="#000"/>
<rect x="162.0" y="277.00" width="1.1" height="0.60" fill="#000"/>
<rect x="165.0" y="276.68" width="1.1" height="0.92" fill="#000"/>
<rect x="167.0" y="277.00" width="1.1" height="0.60" fill="#000"/>
<rect x="168.0" y="276.36" width="1.1" height="1.24" fill="#000"/>
<rect x="169.0" y="276.41" width="1.1" height="1.19" fill="#000"/>
<rect x="172.0" y="274.83" width="1.1" height="2.77" fill="#000"/>
<rect x="175.0" y="276.58" width="1.1" height="1.02" fill="#000"/>
<rect x="180.0" y="276.98" width="1.1" height="0.62" fill="#000"/>
<rect x="189.0" y="277.00" width="1.1" height="0.60" fill="#000"/>
<rect x="191.0" y="275.92" width="1.1" height="1.68" fill="#000"/>
<rect x="194.0" y="275.64" width="1.1" height="1.96" fill="#000"/>
<rect x="200.0" y="276.50" width="1.1" height="1.10" fill="#000"/>
<rect x="202.0" y="277.00" width="1.1" height="0.60" fill="#000"/>
<rect x="204.0" y="276.85" width="1.1" height="0.75" fill="#000"/>
<rect x="208.0" y="277.00" width="1.1" height="0.60" fill="#000"/>
<rect x="213.0" y="276.50" width="1.1" height="1.10" fill="#000"/>
<rect x="221.0" y="276.34" width="1.1" height="1.26" fill="#000"/>
<rect x="222.0" y="277.00" width="1.1" height="0.60" fill="#000"/>
<rect x="224.0" y="276.20" width="1.1" height="1.40" fill="#000"/>
<rect x="229.0" y="275.64" width="1.1" height="1.96" fill="#000"/>
<rect x="233.0" y="276.78" width="1.1" height="0.82" fill="#000"/>
<rect x="234.0" y="277.00" width="1.1" height="0.60" fill="#000"/>
<rect x="235.0" y="275.65" width="1.1" height="1.95" fill="#000"/>
<rect x="243.0" y="277.00" width="1.1" height="0.60" fill="#000"/>
<rect x="244.0" y="275.49" width="1.1" height="2.11" fill="#000"/>
<rect x="248.0" y="276.08" width="1.1" height="1.52" fill="#000"/>
<rect x="250.0" y="276.52" width="1.1" height="1.08" fill="#000"/>
<rect x="251.0" y="277.00" width="1.1" height="0.60" fill="#000"/>
<rect x="253.0" y="276.99" width="1.1" height="0.61" fill="#000"/>
<rect x="256.0" y="277.00" width="1.1" height="0.60" fill="#000"/>
<rect x="257.0" y="276.26" width="1.1" height="1.34" fill="#000"/>
<rect x="258.0" y="275.35" width="1.1" height="2.25" fill="#000"/>
<rect x="262.0" y="276.99" width="1.1" height="0.61" fill="#000"/>
<rect x="264.0" y="276.57" width="1.1" height="1.03" fill="#000"/>
<rect x="265.0" y="277.00" width="1.1" height="0.60" fill="#000"/>
<rect x="267.0" y="276.70" width="1.1" height="0.90" fill="#000"/>
<rect x="270.0" y="275.33" width="1.1" height="2.27" fill="#000"/>
<rect x="273.0" y="276.99" width="1.1" height="0.61" fill="#000"/>
<rect x="279.0" y="276.79" width="1.1" height="0.81" fill="#000"/>
<rect x="281.0" y="277.00" width="1.1" height="0.60" fill="#000"/>
<rect x="282.0" y="274.76" width="1.1" height="2.84" fill="#000"/>
<rect x="298.0" y="277.00" width="1.1" height="0.60" fill="#000"/>
<rect x="299.0" y="277.00" width="1.1" height="0.60" fill="#000"/>
<rect x="301.0" y="277.00" width="1.1" height="0.60" fill="#000"/>
<rect x="303.0" y="276.05" width="1.1" height="1.55" fill="#000"/>
<rect x="306.0" y="276.85" width="1.1" height="0.75" fill="#000"/>
<rect x="308.0" y="275.05" width="1.1" height="2.55" fill="#000"/>
<rect x="309.0" y="276.13" width="1.1" height="1.47" fill="#000"/>
<rect x="313.0" y="276.83" width="1.1" height="0.77" fill="#000"/>
<rect x="315.0" y="275.47" width="1.1" height="2.13" fill="#000"/>
<rect x="316.0" y="275.35" width="1.1" height="2.25" fill="#000"/>
<rect x="317.0" y="276.98" width="1.1" height="0.62" fill="#000"/>
<rect x="324.0" y="276.92" width="1.1" height="0.68" fill="#000"/>
<rect x="325.0" y="276.37" width="1.1" height="1.23" fill="#000"/>
<rect x="327.0" y="277.00" width="1.1" height="0.60" fill="#000"/>
<rect x="336.0" y="277.00" width="1.1" height="0.60" fill="#000"/>
<rect x="340.0" y="276.96" width="1.1" height="0.64" fill="#000"/>
<rect x="341.0" y="277.00" width="1.1" height="0.60" fill="#000"/>
<rect x="342.0" y="275.87" width="1.1" height="1.73" fill="#000"/>
<rect x="346.0" y="277.00" width="1.1" height="0.60" fill="#000"/>
<rect x="353.0" y="276.78" width="1.1" height="0.82" fill="#000"/>
<rect x="355.0" y="276.90" width="1.1" height="0.70" fill="#000"/>
<rect x="359.0" y="276.37" width="1.1" height="1.23" fill="#000"/>
<rect x="360.0" y="277.00" width="1.1" height="0.60" fill="#000"/>
<rect x="363.0" y="275.76" width="1.1" height="1.84" fill="#000"/>
<rect x="365.0" y="276.17" width="1.1" height="1.43" fill="#000"/>
<rect x="367.0" y="276.13" width="1.1" height="1.47" fill="#000"/>
<rect x="374.0" y="276.99" width="1.1" height="0.61" fill="#000"/>
<rect x="375.0" y="276.62" width="1.1" height="0.98" fill="#000"/>
<rect x="377.0" y="276.22" width="1.1" height="1.38" fill="#000"/>
<rect x="379.0" y="276.75" width="1.1" height="0.85" fill="#000"/>
<rect x="380.0" y="275.98" width="1.1" height="1.62" fill="#000"/>
<rect x="381.0" y="273.66" width="1.1" height="3.94" fill="#000"/>
<rect x="384.0" y="274.50" width="1.1" height="3.10" fill="#000"/>
<rect x="386.0" y="275.70" width="1.1" height="1.90" fill="#000"/>
<rect x="390.0" y="274.37" width="1.1" height="3.23" fill="#000"/>
<rect x="392.0" y="275.51" width="1.1" height="2.09" fill="#000"/>
<rect x="393.0" y="277.00" width="1.1" height="0.60" fill="#000"/>
<rect x="394.0" y="277.00" width="1.1" height="0.60" fill="#000"/>
<rect x="397.0" y="276.53" width="1.1" height="1.07" fill="#000"/>
<rect x="398.0" y="277.00" width="1.1" height="0.60" fill="#000"/>
<rect x="399.0" y="276.99" width="1.1" height="0.61" fill="#000"/>
<rect x="401.0" y="277.00" width="1.1" height="0.60" fill="#000"/>
<rect x="402.0" y="277.00" width="1.1" height="0.60" fill="#000"/>
<rect x="406.0" y="276.98" width="1.1" height="0.62" fill="#000"/>
<rect x="408.0" y="276.58" width="1.1" height="1.02" fill="#000"/>
<rect x="409.0" y="276.21" width="1.1" height="1.39" fill="#000"/>
<rect x="418.0" y="276.98" width="1.1" height="0.62" fill="#000"/>
<rect x="419.0" y="275.47" width="1.1" height="2.13" fill="#000"/>
<rect x="420.0" y="275.88" width="1.1" height="1.72" fill="#000"/>
<rect x="425.0" y="276.77" width="1.1" height="0.83" fill="#000"/>
<rect x="427.0" y="276.77" width="1.1" height="0.83" fill="#000"/>
<rect x="428.0" y="276.72" width="1.1" height="0.88" fill="#000"/>
<rect x="429.0" y="276.86" width="1.1" height="0.74" fill="#000"/>
<rect x="430.0" y="276.97" width="1.1" height="0.63" fill="#000"/>
<rect x="431.0" y="275.65" width="1.1" height="1.95" fill="#000"/>
<rect x="435.0" y="276.99" width="1.1" height="0.61" fill="#000"/>
<rect x="436.0" y="276.98" width="1.1" height="0.62" fill="#000"/>
<rect x="444.0" y="275.89" width="1.1" height="1.71" fill="#000"/>
<rect x="446.0" y="277.00" width="1.1" height="0.60" fill="#000"/>
<rect x="449.0" y="277.00" width="1.1" height="0.60" fill="#000"/>
<rect x="450.0" y="276.88" width="1.1" height="0.72" fill="#000"/>
<rect x="451.0" y="275.02" width="1.1" height="2.58" fill="#000"/>
<rect x="461.0" y="276.44" width="1.1" height="1.16" fill="#000"/>
<rect x="469.0" y="276.98" width="1.1" height="0.62" fill="#000"/>
<rect x="473.0" y="275.27" width="1.1" height="2.33" fill="#000"/>
<rect x="476.0" y="276.76" width="1.1" height="0.84" fill="#000"/>
<rect x="478.0" y="276.94" width="1.1" height="0.66" fill="#000"/>
<rect x="480.0" y="276.76" width="1.1" height="0.84" fill="#000"/>
<rect x="483.0" y="276.19" width="1.1" height="1.41" fill="#000"/>
<rect x="485.0" y="276.99" width="1.1" height="0.61" fill="#000"/>
<rect x="487.0" y="277.00" width="1.1" height="0.60" fill="#000"/>
<rect x="490.0" y="276.75" width="1.1" height="0.85" fill="#000"/>
<rect x="492.0" y="276.35" width="1.1" height="1.25" fill="#000"/>
<rect x="495.0" y="276.50" width="1.1" height="1.10" fill="#000"/>
<rect x="496.0" y="276.64" width="1.1" height="0.96" fill="#000"/>
<rect x="497.0" y="275.60" width="1.1" height="2.00" fill="#000"/>
<rect x="499.0" y="276.99" width="1.1" height="0.61" fill="#000"/>
<rect x="503.0" y="274.64" width="1.1" height="2.96" fill="#000"/>
<rect x="505.0" y="276.87" width="1.1" height="0.73" fill="#000"/>
<rect x="508.0" y="276.45" width="1.1" height="1.15" fill="#000"/>
<rect x="509.0" y="273.77" width="1.1" height="3.83" fill="#000"/>
<rect x="510.0" y="274.50" width="1.1" height="3.10" fill="#000"/>
<rect x="513.0" y="276.72" width="1.1" height="0.88" fill="#000"/>
<rect x="514.0" y="277.00" width="1.1" height="0.60" fill="#000"/>
<rect x="516.0" y="275.85" width="1.1" height="1.75" fill="#000"/>
<rect x="517.0" y="276.04" width="1.1" height="1.56" fill="#000"/>
<rect x="519.0" y="277.00" width="1.1" height="0.60" fill="#000"/>
<rect x="520.0" y="276.79" width="1.1" height="0.81" fill="#000"/>
<rect x="521.0" y="277.00" width="1.1" height="0.60" fill="#000"/>
<rect x="522.0" y="276.54" width="1.1" height="1.06" fill="#000"/>
<rect x="524.0" y="277.00" width="1.1" height="0.60" fill="#000"/>
<rect x="529.0" y="275.23" width="1.1" height="2.37" fill="#000"/>
<rect x="530.0" y="276.17" width="1.1" height="1.43" fill="#000"/>
<rect x="531.0" y="276.91" width="1.1" height="0.69" fill="#000"/>
<rect x="533.0" y="277.00" width="1.1" height="0.60" fill="#000"/>
<rect x="534.0" y="275.37" width="1.1" height="2.23" fill="#000"/>
<rect x="536.0" y="276.99" width="1.1" height="0.61" fill="#000"/>
<rect x="538.0" y="276.40" width="1.1" height="1.20" fill="#000"/>
<rect x="541.0" y="275.06" width="1.1" height="2.54" fill="#000"/>
<rect x="543.0" y="276.90" width="1.1" height="0.70" fill="#000"/>
<rect x="544.0" y="273.58" width="1.1" height="4.02" fill="#000"/>
<rect x="545.0" y="274.12" width="1.1" height="3.48" fill="#000"/>
<rect x="547.0" y="273.65" width="1.1" height="3.95" fill="#000"/>
<rect x="548.0" y="277.00" width="1.1" height="0.60" fill="#000"/>
<rect x="550.0" y="276.90" width="1.1" height="0.70" fill="#000"/>
<rect x="551.0" y="276.78" width="1.1" height="0.82" fill="#000"/>
<rect x="554.0" y="277.00" width="1.1" height="0.60" fill="#000"/>
<rect x="556.0" y="276.97" width="1.1" height="0.63" fill="#000"/>
<rect x="557.0" y="277.00" width="1.1" height="0.60" fill="#000"/>
<rect x="558.0" y="276.21" width="1.1" height="1.39" fill="#000"/>
<rect x="563.0" y="276.24" width="1.1" height="1.36" fill="#000"/>
<rect x="566.0" y="277.00" width="1.1" height="0.60" fill="#000"/>
<rect x="568.0" y="276.93" width="1.1" height="0.67" fill="#000"/>
<rect x="570.0" y="276.64" width="1.1" height="0.96" fill="#000"/>
<rect x="571.0" y="276.93" width="1.1" height="0.67" fill="#000"/>
<rect x="572.0" y="276.99" width="1.1" height="0.61" fill="#000"/>
<rect x="574.0" y="276.08" width="1.1" height="1.52" fill="#000"/>
<rect x="579.0" y="272.64" width="1.1" height="4.96" fill="#000"/>
<rect x="580.0" y="273.58" width="1.1" height="4.02" fill="#000"/>
<rect x="583.0" y="277.00" width="1.1" height="0.60" fill="#000"/>
<rect x="585.0" y="276.91" width="1.1" height="0.69" fill="#000"/>
<rect x="587.0" y="276.62" width="1.1" height="0.98" fill="#000"/>
<rect x="588.0" y="277.00" width="1.1" height="0.60" fill="#000"/>
<rect x="589.0" y="275.80" width="1.1" height="1.80" fill="#000"/>
<rect x="591.0" y="276.64" width="1.1" height="0.96" fill="#000"/>
<rect x="592.0" y="275.03" width="1.1" height="2.57" fill="#000"/>
<rect x="593.0" y="277.00" width="1.1" height="0.60" fill="#000"/>
<rect x="594.0" y="275.62" width="1.1" height="1.98" fill="#000"/>
<rect x="595.0" y="277.00" width="1.1" height="0.60" fill="#000"/>
<rect x="599.0" y="276.84" width="1.1" height="0.76" fill="#000"/>
<rect x="600.0" y="276.54" width="1.1" height="1.06" fill="#000"/>
<rect x="601.0" y="276.94" width="1.1" height="0.66" fill="#000"/>
<rect x="604.0" y="277.00" width="1.1" height="0.60" fill="#000"/>
<rect x="606.0" y="272.43" width="1.1" height="5.17" fill="#000"/>
<rect x="610.0" y="273.90" width="1.1" height="3.70" fill="#000"/>
<rect x="612.0" y="277.00" width="1.1" height="0.60" fill="#000"/>
<rect x="613.0" y="276.65" width="1.1" height="0.95" fill="#000"/>
<rect x="614.0" y="276.93" width="1.1" height="0.67" fill="#000"/>
<rect x="615.0" y="277.00" width="1.1" height="0.60" fill="#000"/>
<rect x="618.0" y="276.96" width="1.1" height="0.64" fill="#000"/>
<rect x="619.0" y="276.95" width="1.1" height="0.65" fill="#000"/>
<rect x="621.0" y="276.63" width="1.1" height="0.97" fill="#000"/>
<rect x="622.0" y="273.64" width="1.1" height="3.96" fill="#000"/>
<rect x="623.0" y="276.94" width="1.1" height="0.66" fill="#000"/>
<rect x="624.0" y="272.58" width="1.1" height="5.02" fill="#000"/>
<rect x="625.0" y="273.67" width="1.1" height="3.93" fill="#000"/>
<rect x="632.0" y="276.64" width="1.1" height="0.96" fill="#000"/>
<rect x="633.0" y="272.34" width="1.1" height="5.26" fill="#000"/>
<rect x="637.0" y="273.22" width="1.1" height="4.38" fill="#000"/>
<rect x="639.0" y="276.78" width="1.1" height="0.82" fill="#000"/>
<rect x="641.0" y="277.00" width="1.1" height="0.60" fill="#000"/>
<rect x="642.0" y="275.93" width="1.1" height="1.67" fill="#000"/>
<rect x="643.0" y="273.75" width="1.1" height="3.85" fill="#000"/>
<rect x="644.0" y="276.86" width="1.1" height="0.74" fill="#000"/>
<rect x="646.0" y="277.00" width="1.1" height="0.60" fill="#000"/>
<rect x="647.0" y="276.98" width="1.1" height="0.62" fill="#000"/>
<rect x="648.0" y="276.98" width="1.1" height="0.62" fill="#000"/>
<rect x="650.0" y="277.00" width="1.1" height="0.60" fill="#000"/>
<rect x="651.0" y="274.49" width="1.1" height="3.11" fill="#000"/>
<rect x="653.0" y="274.35" width="1.1" height="3.25" fill="#000"/>
<rect x="654.0" y="276.91" width="1.1" height="0.69" fill="#000"/>
<rect x="657.0" y="273.97" width="1.1" height="3.63" fill="#000"/>
<rect x="658.0" y="274.31" width="1.1" height="3.29" fill="#000"/>
<rect x="660.0" y="276.00" width="1.1" height="1.60" fill="#000"/>
<rect x="661.0" y="273.18" width="1.1" height="4.42" fill="#000"/>
<rect x="666.0" y="276.99" width="1.1" height="0.61" fill="#000"/>
<rect x="669.0" y="276.73" width="1.1" height="0.87" fill="#000"/>
<rect x="670.0" y="274.09" width="1.1" height="3.51" fill="#000"/>
<rect x="672.0" y="277.00" width="1.1" height="0.60" fill="#000"/>
<rect x="674.0" y="276.99" width="1.1" height="0.61" fill="#000"/>
<rect x="675.0" y="276.56" width="1.1" height="1.04" fill="#000"/>
<rect x="676.0" y="277.00" width="1.1" height="0.60" fill="#000"/>
<rect x="677.0" y="275.81" width="1.1" height="1.79" fill="#000"/>
<rect x="689.0" y="276.98" width="1.1" height="0.62" fill="#000"/>
<rect x="694.0" y="276.68" width="1.1" height="0.92" fill="#000"/>
<rect x="698.0" y="276.95" width="1.1" height="0.65" fill="#000"/>
<rect x="705.0" y="276.91" width="1.1" height="0.69" fill="#000"/>
<rect x="707.0" y="276.39" width="1.1" height="1.21" fill="#000"/>
<rect x="709.0" y="276.92" width="1.1" height="0.68" fill="#000"/>
<rect x="710.0" y="276.97" width="1.1" height="0.63" fill="#000"/>
<rect x="712.0" y="277.00" width="1.1" height="0.60" fill="#000"/>
<rect x="713.0" y="275.96" width="1.1" height="1.64" fill="#000"/>
<rect x="715.0" y="275.10" width="1.1" height="2.50" fill="#000"/>
<rect x="716.0" y="276.87" width="1.1" height="0.73" fill="#000"/>
<rect x="726.0" y="277.00" width="1.1" height="0.60" fill="#000"/>
<rect x="728.0" y="277.00" width="1.1" height="0.60" fill="#000"/>
<rect x="729.0" y="276.90" width="1.1" height="0.70" fill="#000"/>
<rect x="731.0" y="276.47" width="1.1" height="1.13" fill="#000"/>
<rect x="733.0" y="276.73" width="1.1" height="0.87" fill="#000"/>
<rect x="737.0" y="275.46" width="1.1" height="2.14" fill="#000"/>
<rect x="739.0" y="276.82" width="1.1" height="0.78" fill="#000"/>
<rect x="742.0" y="276.99" width="1.1" height="0.61" fill="#000"/>
<rect x="743.0" y="276.90" width="1.1" height="0.70" fill="#000"/>
<rect x="748.0" y="276.96" width="1.1" height="0.64" fill="#000"/>
<rect x="750.0" y="276.87" width="1.1" height="0.73" fill="#000"/>
<rect x="752.0" y="275.98" width="1.1" height="1.62" fill="#000"/>
<rect x="753.0" y="276.96" width="1.1" height="0.64" fill="#000"/>
<rect x="755.0" y="276.86" width="1.1" height="0.74" fill="#000"/>
<rect x="759.0" y="276.89" width="1.1" height="0.71" fill="#000"/>
<rect x="762.0" y="276.36" width="1.1" height="1.24" fill="#000"/>
<rect x="763.0" y="276.89" width="1.1" height="0.71" fill="#000"/>
<rect x="764.0" y="275.16" width="1.1" height="2.44" fill="#000"/>
<rect x="768.0" y="276.84" width="1.1" height="0.76" fill="#000"/>
<rect x="772.0" y="276.99" width="1.1" height="0.61" fill="#000"/>
<rect x="775.0" y="277.00" width="1.1" height="0.60" fill="#000"/>
<rect x="781.0" y="276.94" width="1.1" height="0.66" fill="#000"/>
<rect x="782.0" y="276.55" width="1.1" height="1.05" fill="#000"/>
<rect x="783.0" y="277.00" width="1.1" height="0.60" fill="#000"/>
<rect x="784.0" y="276.91" width="1.1" height="0.69" fill="#000"/>
<rect x="785.0" y="276.74" width="1.1" height="0.86" fill="#000"/>
<rect x="786.0" y="275.85" width="1.1" height="1.75" fill="#000"/>
<rect x="789.0" y="276.98" width="1.1" height="0.62" fill="#000"/>
<rect x="794.0" y="276.89" width="1.1" height="0.71" fill="#000"/>
<rect x="795.0" y="277.00" width="1.1" height="0.60" fill="#000"/>
<rect x="796.0" y="276.99" width="1.1" height="0.61" fill="#000"/>
<rect x="797.0" y="276.84" width="1.1" height="0.76" fill="#000"/>
<rect x="801.0" y="277.00" width="1.1" height="0.60" fill="#000"/>
<rect x="805.0" y="277.00" width="1.1" height="0.60" fill="#000"/>
<rect x="806.0" y="276.72" width="1.1" height="0.88" fill="#000"/>
<rect x="807.0" y="277.00" width="1.1" height="0.60" fill="#000"/>
<rect x="810.0" y="276.75" width="1.1" height="0.85" fill="#000"/>
<rect x="812.0" y="276.98" width="1.1" height="0.62" fill="#000"/>
<rect x="813.0" y="276.99" width="1.1" height="0.61" fill="#000"/>
<rect x="816.0" y="277.00" width="1.1" height="0.60" fill="#000"/>
<rect x="818.0" y="276.98" width="1.1" height="0.62" fill="#000"/>
<rect x="819.0" y="277.00" width="1.1" height="0.60" fill="#000"/>
<rect x="820.0" y="277.00" width="1.1" height="0.60" fill="#000"/>
<rect x="821.0" y="275.54" width="1.1" height="2.06" fill="#000"/>
<rect x="823.0" y="276.59" width="1.1" height="1.01" fill="#000"/>
<rect x="824.0" y="276.86" width="1.1" height="0.74" fill="#000"/>
<rect x="825.0" y="275.44" width="1.1" height="2.16" fill="#000"/>
<rect x="826.0" y="276.20" width="1.1" height="1.40" fill="#000"/>
<rect x="837.0" y="275.75" width="1.1" height="1.85" fill="#000"/>
<rect x="840.0" y="276.87" width="1.1" height="0.73" fill="#000"/>
<rect x="841.0" y="277.00" width="1.1" height="0.60" fill="#000"/>
<rect x="844.0" y="276.99" width="1.1" height="0.61" fill="#000"/>
<rect x="848.0" y="276.96" width="1.1" height="0.64" fill="#000"/>
<rect x="855.0" y="276.98" width="1.1" height="0.62" fill="#000"/>
<rect x="857.0" y="275.66" width="1.1" height="1.94" fill="#000"/>
<rect x="858.0" y="275.85" width="1.1" height="1.75" fill="#000"/>
<rect x="859.0" y="276.04" width="1.1" height="1.56" fill="#000"/>
<rect x="861.0" y="275.80" width="1.1" height="1.80" fill="#000"/>
<rect x="862.0" y="276.00" width="1.1" height="1.60" fill="#000"/>
<rect x="863.0" y="276.93" width="1.1" height="0.67" fill="#000"/>
<rect x="864.0" y="276.75" width="1.1" height="0.85" fill="#000"/>
<rect x="865.0" y="276.62" width="1.1" height="0.98" fill="#000"/>
<rect x="868.0" y="275.42" width="1.1" height="2.18" fill="#000"/>
<rect x="871.0" y="276.81" width="1.1" height="0.79" fill="#000"/>
<rect x="880.0" y="276.91" width="1.1" height="0.69" fill="#000"/>
<rect x="881.0" y="276.53" width="1.1" height="1.07" fill="#000"/>
<rect x="882.0" y="277.00" width="1.1" height="0.60" fill="#000"/>
<rect x="883.0" y="277.00" width="1.1" height="0.60" fill="#000"/>
<rect x="885.0" y="276.99" width="1.1" height="0.61" fill="#000"/>
<rect x="891.0" y="276.18" width="1.1" height="1.42" fill="#000"/>
<rect x="892.0" y="276.81" width="1.1" height="0.79" fill="#000"/>
<rect x="893.0" y="277.00" width="1.1" height="0.60" fill="#000"/>
<rect x="896.0" y="275.85" width="1.1" height="1.75" fill="#000"/>
<rect x="897.0" y="276.64" width="1.1" height="0.96" fill="#000"/>
<rect x="900.0" y="276.93" width="1.1" height="0.67" fill="#000"/>
<rect x="901.0" y="276.99" width="1.1" height="0.61" fill="#000"/>
<rect x="907.0" y="276.61" width="1.1" height="0.99" fill="#000"/>
<rect x="909.0" y="276.67" width="1.1" height="0.93" fill="#000"/>
<rect x="911.0" y="276.51" width="1.1" height="1.09" fill="#000"/>
<rect x="913.0" y="275.76" width="1.1" height="1.84" fill="#000"/>
<rect x="914.0" y="276.07" width="1.1" height="1.53" fill="#000"/>
<rect x="915.0" y="276.49" width="1.1" height="1.11" fill="#000"/>
<rect x="916.0" y="276.98" width="1.1" height="0.62" fill="#000"/>
<rect x="925.0" y="276.93" width="1.1" height="0.67" fill="#000"/>
<rect x="930.0" y="276.96" width="1.1" height="0.64" fill="#000"/>
<rect x="931.0" y="277.00" width="1.1" height="0.60" fill="#000"/>
<rect x="932.0" y="277.00" width="1.1" height="0.60" fill="#000"/>
<rect x="936.0" y="277.00" width="1.1" height="0.60" fill="#000"/>
<rect x="940.0" y="276.95" width="1.1" height="0.65" fill="#000"/>
<rect x="945.0" y="277.00" width="1.1" height="0.60" fill="#000"/>
<rect x="950.0" y="276.99" width="1.1" height="0.61" fill="#000"/>
<rect x="954.0" y="276.92" width="1.1" height="0.68" fill="#000"/>
<rect x="964.0" y="276.73" width="1.1" height="0.87" fill="#000"/>
<rect x="965.0" y="276.88" width="1.1" height="0.72" fill="#000"/>
<rect x="971.0" y="277.00" width="1.1" height="0.60" fill="#000"/>
<rect x="974.0" y="276.98" width="1.1" height="0.62" fill="#000"/>
<rect x="983.0" y="276.98" width="1.1" height="0.62" fill="#000"/>
<rect x="985.0" y="276.68" width="1.1" height="0.92" fill="#000"/>
<rect x="987.0" y="276.93" width="1.1" height="0.67" fill="#000"/>
<rect x="993.0" y="277.00" width="1.1" height="0.60" fill="#000"/>
<rect x="995.0" y="276.97" width="1.1" height="0.63" fill="#000"/>
<rect x="996.0" y="277.00" width="1.1" height="0.60" fill="#000"/>
<rect x="997.0" y="277.00" width="1.1" height="0.60" fill="#000"/>
<rect x="1000.0" y="276.98" width="1.1" height="0.62" fill="#000"/>
<rect x="1005.0" y="276.89" width="1.1" height="0.71" fill="#000"/>
<rect x="1006.0" y="276.72" width="1.1" height="0.88" fill="#000"/>
<rect x="1007.0" y="276.78" width="1.1" height="0.82" fill="#000"/>
<rect x="1011.0" y="276.94" width="1.1" height="0.66" fill="#000"/>
<rect x="1012.0" y="277.00" width="1.1" height="0.60" fill="#000"/>
<rect x="1014.0" y="276.86" width="1.1" height="0.74" fill="#000"/>
<rect x="1018.0" y="276.82" width="1.1" height="0.78" fill="#000"/>
<rect x="1021.0" y="276.66" width="1.1" height="0.94" fill="#000"/>
<rect x="1022.0" y="276.97" width="1.1" height="0.63" fill="#000"/>
<rect x="1023.0" y="276.69" width="1.1" height="0.91" fill="#000"/>
<rect x="1027.0" y="277.00" width="1.1" height="0.60" fill="#000"/>
<rect x="1033.0" y="276.62" width="1.1" height="0.98" fill="#000"/>
<rect x="1035.0" y="277.00" width="1.1" height="0.60" fill="#000"/>
<rect x="1037.0" y="276.51" width="1.1" height="1.09" fill="#000"/>
<rect x="1042.0" y="276.81" width="1.1" height="0.79" fill="#000"/>
<rect x="1043.0" y="277.00" width="1.1" height="0.60" fill="#000"/>
<rect x="1044.0" y="277.00" width="1.1" height="0.60" fill="#000"/>
<rect x="1049.0" y="276.88" width="1.1" height="0.72" fill="#000"/>
<rect x="1057.0" y="277.00" width="1.1" height="0.60" fill="#000"/>
<rect x="1059.0" y="276.93" width="1.1" height="0.67" fill="#000"/>
<rect x="1061.0" y="277.00" width="1.1" height="0.60" fill="#000"/>
<rect x="1066.0" y="276.85" width="1.1" height="0.75" fill="#000"/>
<rect x="1067.0" y="276.98" width="1.1" height="0.62" fill="#000"/>
<rect x="1071.0" y="276.95" width="1.1" height="0.65" fill="#000"/>
<rect x="1073.0" y="276.99" width="1.1" height="0.61" fill="#000"/>
<rect x="1077.0" y="276.52" width="1.1" height="1.08" fill="#000"/>
<rect x="1080.0" y="277.00" width="1.1" height="0.60" fill="#000"/>
<rect x="1082.0" y="277.00" width="1.1" height="0.60" fill="#000"/>
<rect x="1101.0" y="276.91" width="1.1" height="0.69" fill="#000"/>
<rect x="1103.0" y="276.60" width="1.1" height="1.00" fill="#000"/>
<rect x="1110.0" y="276.92" width="1.1" height="0.68" fill="#000"/>
<rect x="1111.0" y="276.52" width="1.1" height="1.08" fill="#000"/>
<rect x="1123.0" y="277.00" width="1.1" height="0.60" fill="#000"/>
<rect x="1125.0" y="276.54" width="1.1" height="1.06" fill="#000"/>
<rect x="1126.0" y="277.00" width="1.1" height="0.60" fill="#000"/>
<rect x="1133.0" y="277.00" width="1.1" height="0.60" fill="#000"/>
<rect x="1136.0" y="276.36" width="1.1" height="1.24" fill="#000"/>
<rect x="1140.0" y="277.00" width="1.1" height="0.60" fill="#000"/>
<rect x="1142.0" y="277.00" width="1.1" height="0.60" fill="#000"/>
<rect x="1143.0" y="276.80" width="1.1" height="0.80" fill="#000"/>
<rect x="1144.0" y="277.00" width="1.1" height="0.60" fill="#000"/>
<rect x="1145.0" y="276.96" width="1.1" height="0.64" fill="#000"/>
<rect x="1151.0" y="276.99" width="1.1" height="0.61" fill="#000"/>
<rect x="1154.0" y="276.97" width="1.1" height="0.63" fill="#000"/>
<rect x="1157.0" y="276.99" width="1.1" height="0.61" fill="#000"/>
<rect x="1160.0" y="276.91" width="1.1" height="0.69" fill="#000"/>
<rect x="1165.0" y="277.00" width="1.1" height="0.60" fill="#000"/>
<rect x="1166.0" y="276.91" width="1.1" height="0.69" fill="#000"/>
<rect x="1167.0" y="277.00" width="1.1" height="0.60" fill="#000"/>
<rect x="1168.0" y="277.00" width="1.1" height="0.60" fill="#000"/>
<rect x="1173.0" y="276.46" width="1.1" height="1.14" fill="#000"/>
<rect x="1174.0" y="276.33" width="1.1" height="1.27" fill="#000"/>
<rect x="1175.0" y="277.00" width="1.1" height="0.60" fill="#000"/>
<rect x="1177.0" y="276.75" width="1.1" height="0.85" fill="#000"/>
<rect x="1178.0" y="276.68" width="1.1" height="0.92" fill="#000"/>
<rect x="1179.0" y="276.94" width="1.1" height="0.66" fill="#000"/>
<rect x="1180.0" y="276.99" width="1.1" height="0.61" fill="#000"/>
<rect x="1185.0" y="277.00" width="1.1" height="0.60" fill="#000"/>
<rect x="1187.0" y="276.45" width="1.1" height="1.15" fill="#000"/>
<rect x="1190.0" y="277.00" width="1.1" height="0.60" fill="#000"/>
<rect x="1191.0" y="276.89" width="1.1" height="0.71" fill="#000"/>
<rect x="1197.0" y="276.98" width="1.1" height="0.62" fill="#000"/>
<rect x="1217.0" y="276.99" width="1.1" height="0.61" fill="#000"/>
<rect x="1219.0" y="276.97" width="1.1" height="0.63" fill="#000"/>
<rect x="1221.0" y="276.97" width="1.1" height="0.63" fill="#000"/>
<rect x="99.95" y="263.75" width="1.30" height="15.55" fill="#000"/>
<rect x="111.85" y="260.60" width="1.30" height="18.70" fill="#000"/>
<rect x="110.65" y="268.00" width="1.30" height="11.30" fill="#000"/>
<rect x="139.05" y="261.90" width="1.30" height="17.40" fill="#000"/>
<rect x="239.35" y="268.40" width="1.30" height="10.90" fill="#000"/>
<rect x="272.75" y="269.00" width="1.30" height="10.30" fill="#000"/>
<rect x="318.10" y="265.00" width="1.30" height="14.30" fill="#000"/>
<rect x="381.35" y="240.20" width="1.30" height="39.10" fill="#000"/>
<rect x="381.90" y="266.00" width="1.80" height="13.30" fill="#000"/>
<rect x="392.65" y="253.30" width="1.30" height="26.00" fill="#000"/>
<rect x="393.20" y="269.00" width="1.60" height="10.30" fill="#000"/>
<rect x="438.10" y="92.50" width="1.80" height="186.80" fill="#000"/>
<rect x="439.70" y="240.20" width="1.80" height="39.10" fill="#000"/>
<rect x="478.05" y="258.00" width="1.30" height="21.30" fill="#000"/>
<rect x="478.50" y="272.00" width="1.60" height="7.30" fill="#000"/>
<rect x="532.00" y="272.75" width="1.00" height="6.55" fill="#000"/>
<rect x="535.20" y="263.40" width="2.00" height="15.90" fill="#000"/>
<rect x="537.90" y="264.20" width="1.60" height="15.10" fill="#000"/>
<rect x="539.75" y="274.00" width="2.50" height="5.30" fill="#000"/>
<rect x="568.80" y="263.10" width="1.20" height="16.20" fill="#000"/>
<rect x="572.20" y="264.00" width="2.80" height="15.30" fill="#000"/>
<rect x="576.85" y="240.00" width="1.30" height="39.30" fill="#000"/>
<rect x="577.20" y="267.20" width="2.40" height="12.10" fill="#000"/>
<rect x="582.80" y="272.80" width="1.20" height="6.50" fill="#000"/>
<rect x="589.30" y="264.00" width="2.00" height="15.30" fill="#000"/>
<rect x="593.40" y="274.00" width="1.20" height="5.30" fill="#000"/>
<rect x="602.15" y="271.90" width="1.20" height="7.40" fill="#000"/>
<rect x="620.00" y="270.60" width="1.20" height="8.70" fill="#000"/>
<rect x="628.65" y="267.25" width="1.50" height="12.05" fill="#000"/>
<rect x="630.25" y="269.00" width="1.50" height="10.30" fill="#000"/>
<rect x="633.85" y="231.25" width="1.30" height="48.05" fill="#000"/>
<rect x="634.55" y="269.00" width="1.50" height="10.30" fill="#000"/>
<rect x="639.60" y="230.00" width="1.80" height="49.30" fill="#000"/>
<rect x="643.85" y="95.00" width="1.30" height="184.30" fill="#000"/>
<rect x="644.50" y="212.50" width="2.00" height="66.80" fill="#000"/>
<rect x="660.35" y="272.00" width="1.30" height="7.30" fill="#000"/>
<rect x="704.65" y="273.75" width="1.30" height="5.55" fill="#000"/>
<rect x="809.35" y="275.00" width="1.30" height="4.30" fill="#000"/>
<rect x="906.25" y="271.90" width="1.30" height="7.40" fill="#000"/>
<rect x="972.30" y="272.20" width="2.00" height="7.10" fill="#000"/>
<rect x="1015.40" y="275.00" width="1.20" height="4.30" fill="#000"/>
<rect x="1188.35" y="276.00" width="1.30" height="3.30" fill="#000"/>
<line x1="221" y1="263.75" x2="238" y2="267.5" stroke="#111" stroke-width="1.2"/>
<line x1="298.4" y1="232.5" x2="318.75" y2="275.3" stroke="#111" stroke-width="1.2"/>
<line x1="321.9" y1="263.75" x2="326.6" y2="260.6" stroke="#111" stroke-width="1.2"/>
<line x1="472.4" y1="232" x2="478.5" y2="256.1" stroke="#111" stroke-width="1.2"/>
<line x1="588" y1="211.25" x2="584.4" y2="269.4" stroke="#111" stroke-width="1.2"/>
<line x1="623" y1="241.25" x2="629.4" y2="265" stroke="#111" stroke-width="1.2"/>
<line x1="663" y1="240" x2="661.25" y2="272.5" stroke="#111" stroke-width="1.2"/>
<line x1="719.5" y1="241.25" x2="705" y2="270" stroke="#111" stroke-width="1.2"/>
<line x1="827" y1="245.5" x2="812.5" y2="274.5" stroke="#111" stroke-width="1.2"/>
<line x1="965" y1="262.5" x2="970" y2="275" stroke="#111" stroke-width="1.2"/>
<line x1="1011.25" y1="243" x2="978" y2="273" stroke="#111" stroke-width="1.2"/>
<line x1="1036.25" y1="264.5" x2="1018.75" y2="275" stroke="#111" stroke-width="1.2"/>
<line x1="1099.6" y1="266.9" x2="1062" y2="278" stroke="#111" stroke-width="1.2"/>
<line x1="1182.3" y1="249.6" x2="1189.6" y2="276.5" stroke="#111" stroke-width="1.2"/>
<text id="tx6" mask="url(#mtx6)" transform="translate(191.91,256.28) scale(1.0200,1)" style="font-size:16.80px;" fill="#111" >461.22</text>
<text transform="translate(248.28,265.68) scale(1.0200,1)" style="font-size:16.80px;" fill="#111" >532.25</text>
<text transform="translate(285.55,231.30) scale(1.0000,1)" style="font-size:15.00px;" fill="#111" >625.27</text>
<text id="tx7" mask="url(#mtx7)" transform="translate(315.78,253.08) scale(1.0200,1)" style="font-size:16.80px;" fill="#111" >631.32</text>
<text transform="translate(359.32,230.93) scale(1.0200,1)" style="font-size:16.80px;" fill="#111" >768.38</text>
<text transform="translate(446.32,229.18) scale(1.0200,1)" style="font-size:16.80px;" fill="#111" >978.52</text>
<text id="tx8" mask="url(#mtx8)" transform="translate(551.44,202.18) scale(1.0200,1)" style="font-size:16.80px;" fill="#111" >1203.6</text>
<text id="tx9" mask="url(#mtx9)" transform="translate(585.90,237.18) scale(1.0200,1)" style="font-size:16.80px;" fill="#111" >1302.7</text>
<text id="tx10" mask="url(#mtx10)" transform="translate(646.15,237.70) scale(1.0000,1)" style="font-size:15.00px;" fill="#111" >1368.54</text>
<text id="tx11" mask="url(#mtx11)" transform="translate(704.16,237.70) scale(1.0000,1)" style="font-size:15.00px;" fill="#111" >1467.61</text>
<text id="tx12" mask="url(#mtx12)" transform="translate(810.42,242.20) scale(1.0000,1)" style="font-size:15.00px;" fill="#111" >1692.72</text>
<text id="tx13" mask="url(#mtx13)" transform="translate(876.23,270.20) scale(1.0000,1)" style="font-size:15.00px;" fill="#111" >1902.86</text>
<text transform="translate(941.01,256.70) scale(1.0000,1)" style="font-size:15.00px;" fill="#111" >2039.92</text>
<text transform="translate(981.44,239.68) scale(1.0200,1)" style="font-size:16.80px;" fill="#111" >2045.95</text>
<text id="tx14" mask="url(#mtx14)" transform="translate(1035.94,263.45) scale(1.0000,1)" style="font-size:15.00px;" fill="#111" >2138.98</text>
<text id="tx15" mask="url(#mtx15)" transform="translate(1096.24,263.70) scale(1.0000,1)" style="font-size:15.00px;" fill="#111" >2210.02</text>
<text id="tx16" mask="url(#mtx16)" transform="translate(1157.90,245.88) scale(1.0200,1)" style="font-size:16.80px;" fill="#111" >2512.1</text>
<text transform="translate(208.62,235.28) scale(1.0000,1)" style="font-size:16.90px;font-weight:bold;" fill="#2a88bd" >c5</text>
<text transform="translate(265.58,243.68) scale(1.0000,1)" style="font-size:16.90px;font-weight:bold;" fill="#2a88bd" >c6</text>
<text transform="translate(333.25,231.18) scale(1.0000,1)" style="font-size:16.90px;font-weight:bold;" fill="#2a88bd" >c7</text>
<text transform="translate(376.04,209.38) scale(1.0000,1)" style="font-size:16.90px;font-weight:bold;" fill="#2a88bd" >c8</text>
<text id="tx17" mask="url(#mtx17)" transform="translate(458.43,207.18) scale(1.0000,1)" style="font-size:16.90px;font-weight:bold;" fill="#2a88bd" >c10</text>
<text id="tx18" mask="url(#mtx18)" transform="translate(563.81,181.68) scale(1.0000,1)" style="font-size:16.90px;font-weight:bold;" fill="#2a88bd" >c12</text>
<text id="tx19" mask="url(#mtx19)" transform="translate(598.39,215.93) scale(1.0000,1)" style="font-size:16.90px;font-weight:bold;" fill="#2a88bd" >c13</text>
<text id="tx20" mask="url(#mtx20)" transform="translate(998.51,217.68) scale(1.0000,1)" style="font-size:16.90px;font-weight:bold;" fill="#2a88bd" >c14</text>
<text id="tx21" mask="url(#mtx21)" transform="translate(1169.55,224.28) scale(1.0000,1)" style="font-size:16.90px;font-weight:bold;" fill="#2a88bd" >c15</text>
<text transform="translate(300.23,211.80) scale(1.0000,1)" style="font-size:15.30px;font-weight:bold;" fill="#cf2a3e" >z2</text>
<text transform="translate(665.27,217.75) scale(1.0000,1)" style="font-size:15.30px;font-weight:bold;" fill="#cf2a3e" >z3</text>
<text transform="translate(721.91,217.90) scale(1.0000,1)" style="font-size:15.30px;font-weight:bold;" fill="#cf2a3e" >z4</text>
<text transform="translate(829.14,221.75) scale(1.0000,1)" style="font-size:15.30px;font-weight:bold;" fill="#cf2a3e" >z6</text>
<text transform="translate(895.23,249.75) scale(1.0000,1)" style="font-size:15.30px;font-weight:bold;" fill="#cf2a3e" >z8</text>
<text transform="translate(960.02,237.25) scale(1.0000,1)" style="font-size:15.30px;font-weight:bold;" fill="#cf2a3e" >z9</text>
<text id="tx22" mask="url(#mtx22)" transform="translate(1050.28,243.55) scale(1.0000,1)" style="font-size:15.30px;font-weight:bold;" fill="#cf2a3e" >z10</text>
<text id="tx23" mask="url(#mtx23)" transform="translate(1111.60,243.70) scale(1.0000,1)" style="font-size:15.30px;font-weight:bold;" fill="#cf2a3e" >z11</text>
<rect x="47" y="526.20" width="1184.50" height="3.4" fill="#000"/>
<rect x="47.5" y="341.50" width="2.3" height="186.50" fill="#000"/>
<rect x="42.00" y="527.40" width="6" height="1.2" fill="#222"/>
<rect x="45.00" y="508.75" width="3" height="1.2" fill="#222"/>
<rect x="45.00" y="490.10" width="3" height="1.2" fill="#222"/>
<rect x="45.00" y="471.45" width="3" height="1.2" fill="#222"/>
<rect x="45.00" y="452.80" width="3" height="1.2" fill="#222"/>
<rect x="42.00" y="434.15" width="6" height="1.2" fill="#222"/>
<rect x="45.00" y="415.50" width="3" height="1.2" fill="#222"/>
<rect x="45.00" y="396.85" width="3" height="1.2" fill="#222"/>
<rect x="45.00" y="378.20" width="3" height="1.2" fill="#222"/>
<rect x="45.00" y="359.55" width="3" height="1.2" fill="#222"/>
<rect x="42.00" y="340.90" width="6" height="1.2" fill="#222"/>
<rect x="54.06" y="528.00" width="1.3" height="5" fill="#111"/>
<rect x="63.31" y="528.00" width="1.3" height="5" fill="#111"/>
<rect x="72.56" y="528.00" width="1.3" height="8.3" fill="#111"/>
<rect x="81.81" y="528.00" width="1.3" height="5" fill="#111"/>
<rect x="91.05" y="528.00" width="1.3" height="5" fill="#111"/>
<rect x="100.30" y="528.00" width="1.3" height="5" fill="#111"/>
<rect x="109.55" y="528.00" width="1.3" height="5" fill="#111"/>
<rect x="118.80" y="528.00" width="1.3" height="8.3" fill="#111"/>
<rect x="128.05" y="528.00" width="1.3" height="5" fill="#111"/>
<rect x="137.30" y="528.00" width="1.3" height="5" fill="#111"/>
<rect x="146.55" y="528.00" width="1.3" height="5" fill="#111"/>
<rect x="155.80" y="528.00" width="1.3" height="5" fill="#111"/>
<rect x="165.05" y="528.00" width="1.3" height="8.3" fill="#111"/>
<rect x="174.30" y="528.00" width="1.3" height="5" fill="#111"/>
<rect x="183.55" y="528.00" width="1.3" height="5" fill="#111"/>
<rect x="192.80" y="528.00" width="1.3" height="5" fill="#111"/>
<rect x="202.04" y="528.00" width="1.3" height="5" fill="#111"/>
<rect x="211.29" y="528.00" width="1.3" height="8.3" fill="#111"/>
<rect x="220.54" y="528.00" width="1.3" height="5" fill="#111"/>
<rect x="229.79" y="528.00" width="1.3" height="5" fill="#111"/>
<rect x="239.04" y="528.00" width="1.3" height="5" fill="#111"/>
<rect x="248.29" y="528.00" width="1.3" height="5" fill="#111"/>
<rect x="257.54" y="528.00" width="1.3" height="8.3" fill="#111"/>
<rect x="266.79" y="528.00" width="1.3" height="5" fill="#111"/>
<rect x="276.04" y="528.00" width="1.3" height="5" fill="#111"/>
<rect x="285.29" y="528.00" width="1.3" height="5" fill="#111"/>
<rect x="294.54" y="528.00" width="1.3" height="5" fill="#111"/>
<rect x="303.79" y="528.00" width="1.3" height="8.3" fill="#111"/>
<rect x="313.04" y="528.00" width="1.3" height="5" fill="#111"/>
<rect x="322.28" y="528.00" width="1.3" height="5" fill="#111"/>
<rect x="331.53" y="528.00" width="1.3" height="5" fill="#111"/>
<rect x="340.78" y="528.00" width="1.3" height="5" fill="#111"/>
<rect x="350.03" y="528.00" width="1.3" height="8.3" fill="#111"/>
<rect x="359.28" y="528.00" width="1.3" height="5" fill="#111"/>
<rect x="368.53" y="528.00" width="1.3" height="5" fill="#111"/>
<rect x="377.78" y="528.00" width="1.3" height="5" fill="#111"/>
<rect x="387.03" y="528.00" width="1.3" height="5" fill="#111"/>
<rect x="396.28" y="528.00" width="1.3" height="8.3" fill="#111"/>
<rect x="405.53" y="528.00" width="1.3" height="5" fill="#111"/>
<rect x="414.78" y="528.00" width="1.3" height="5" fill="#111"/>
<rect x="424.03" y="528.00" width="1.3" height="5" fill="#111"/>
<rect x="433.27" y="528.00" width="1.3" height="5" fill="#111"/>
<rect x="442.52" y="528.00" width="1.3" height="8.3" fill="#111"/>
<rect x="451.77" y="528.00" width="1.3" height="5" fill="#111"/>
<rect x="461.02" y="528.00" width="1.3" height="5" fill="#111"/>
<rect x="470.27" y="528.00" width="1.3" height="5" fill="#111"/>
<rect x="479.52" y="528.00" width="1.3" height="5" fill="#111"/>
<rect x="488.77" y="528.00" width="1.3" height="8.3" fill="#111"/>
<rect x="498.02" y="528.00" width="1.3" height="5" fill="#111"/>
<rect x="507.27" y="528.00" width="1.3" height="5" fill="#111"/>
<rect x="516.52" y="528.00" width="1.3" height="5" fill="#111"/>
<rect x="525.77" y="528.00" width="1.3" height="5" fill="#111"/>
<rect x="535.02" y="528.00" width="1.3" height="8.3" fill="#111"/>
<rect x="544.27" y="528.00" width="1.3" height="5" fill="#111"/>
<rect x="553.51" y="528.00" width="1.3" height="5" fill="#111"/>
<rect x="562.76" y="528.00" width="1.3" height="5" fill="#111"/>
<rect x="572.01" y="528.00" width="1.3" height="5" fill="#111"/>
<rect x="581.26" y="528.00" width="1.3" height="8.3" fill="#111"/>
<rect x="590.51" y="528.00" width="1.3" height="5" fill="#111"/>
<rect x="599.76" y="528.00" width="1.3" height="5" fill="#111"/>
<rect x="609.01" y="528.00" width="1.3" height="5" fill="#111"/>
<rect x="618.26" y="528.00" width="1.3" height="5" fill="#111"/>
<rect x="627.51" y="528.00" width="1.3" height="8.3" fill="#111"/>
<rect x="636.76" y="528.00" width="1.3" height="5" fill="#111"/>
<rect x="646.01" y="528.00" width="1.3" height="5" fill="#111"/>
<rect x="655.26" y="528.00" width="1.3" height="5" fill="#111"/>
<rect x="664.50" y="528.00" width="1.3" height="5" fill="#111"/>
<rect x="673.75" y="528.00" width="1.3" height="8.3" fill="#111"/>
<rect x="683.00" y="528.00" width="1.3" height="5" fill="#111"/>
<rect x="692.25" y="528.00" width="1.3" height="5" fill="#111"/>
<rect x="701.50" y="528.00" width="1.3" height="5" fill="#111"/>
<rect x="710.75" y="528.00" width="1.3" height="5" fill="#111"/>
<rect x="720.00" y="528.00" width="1.3" height="8.3" fill="#111"/>
<rect x="729.25" y="528.00" width="1.3" height="5" fill="#111"/>
<rect x="738.50" y="528.00" width="1.3" height="5" fill="#111"/>
<rect x="747.75" y="528.00" width="1.3" height="5" fill="#111"/>
<rect x="757.00" y="528.00" width="1.3" height="5" fill="#111"/>
<rect x="766.25" y="528.00" width="1.3" height="8.3" fill="#111"/>
<rect x="775.50" y="528.00" width="1.3" height="5" fill="#111"/>
<rect x="784.74" y="528.00" width="1.3" height="5" fill="#111"/>
<rect x="793.99" y="528.00" width="1.3" height="5" fill="#111"/>
<rect x="803.24" y="528.00" width="1.3" height="5" fill="#111"/>
<rect x="812.49" y="528.00" width="1.3" height="8.3" fill="#111"/>
<rect x="821.74" y="528.00" width="1.3" height="5" fill="#111"/>
<rect x="830.99" y="528.00" width="1.3" height="5" fill="#111"/>
<rect x="840.24" y="528.00" width="1.3" height="5" fill="#111"/>
<rect x="849.49" y="528.00" width="1.3" height="5" fill="#111"/>
<rect x="858.74" y="528.00" width="1.3" height="8.3" fill="#111"/>
<rect x="867.99" y="528.00" width="1.3" height="5" fill="#111"/>
<rect x="877.24" y="528.00" width="1.3" height="5" fill="#111"/>
<rect x="886.49" y="528.00" width="1.3" height="5" fill="#111"/>
<rect x="895.73" y="528.00" width="1.3" height="5" fill="#111"/>
<rect x="904.98" y="528.00" width="1.3" height="8.3" fill="#111"/>
<rect x="914.23" y="528.00" width="1.3" height="5" fill="#111"/>
<rect x="923.48" y="528.00" width="1.3" height="5" fill="#111"/>
<rect x="932.73" y="528.00" width="1.3" height="5" fill="#111"/>
<rect x="941.98" y="528.00" width="1.3" height="5" fill="#111"/>
<rect x="951.23" y="528.00" width="1.3" height="8.3" fill="#111"/>
<rect x="960.48" y="528.00" width="1.3" height="5" fill="#111"/>
<rect x="969.73" y="528.00" width="1.3" height="5" fill="#111"/>
<rect x="978.98" y="528.00" width="1.3" height="5" fill="#111"/>
<rect x="988.23" y="528.00" width="1.3" height="5" fill="#111"/>
<rect x="997.48" y="528.00" width="1.3" height="8.3" fill="#111"/>
<rect x="1006.73" y="528.00" width="1.3" height="5" fill="#111"/>
<rect x="1015.97" y="528.00" width="1.3" height="5" fill="#111"/>
<rect x="1025.22" y="528.00" width="1.3" height="5" fill="#111"/>
<rect x="1034.47" y="528.00" width="1.3" height="5" fill="#111"/>
<rect x="1043.72" y="528.00" width="1.3" height="8.3" fill="#111"/>
<rect x="1052.97" y="528.00" width="1.3" height="5" fill="#111"/>
<rect x="1062.22" y="528.00" width="1.3" height="5" fill="#111"/>
<rect x="1071.47" y="528.00" width="1.3" height="5" fill="#111"/>
<rect x="1080.72" y="528.00" width="1.3" height="5" fill="#111"/>
<rect x="1089.97" y="528.00" width="1.3" height="8.3" fill="#111"/>
<rect x="1099.22" y="528.00" width="1.3" height="5" fill="#111"/>
<rect x="1108.47" y="528.00" width="1.3" height="5" fill="#111"/>
<rect x="1117.72" y="528.00" width="1.3" height="5" fill="#111"/>
<rect x="1126.96" y="528.00" width="1.3" height="5" fill="#111"/>
<rect x="1136.21" y="528.00" width="1.3" height="8.3" fill="#111"/>
<rect x="1145.46" y="528.00" width="1.3" height="5" fill="#111"/>
<rect x="1154.71" y="528.00" width="1.3" height="5" fill="#111"/>
<rect x="1163.96" y="528.00" width="1.3" height="5" fill="#111"/>
<rect x="1173.21" y="528.00" width="1.3" height="5" fill="#111"/>
<rect x="1182.46" y="528.00" width="1.3" height="8.3" fill="#111"/>
<rect x="1191.71" y="528.00" width="1.3" height="5" fill="#111"/>
<rect x="1200.96" y="528.00" width="1.3" height="5" fill="#111"/>
<rect x="1210.21" y="528.00" width="1.3" height="5" fill="#111"/>
<rect x="1219.46" y="528.00" width="1.3" height="5" fill="#111"/>
<rect x="1228.71" y="528.00" width="1.3" height="8.3" fill="#111"/>
<text transform="translate(106.97,549.20) scale(1.0000,1)" style="font-size:14.80px;" fill="#333" >200</text>
<text transform="translate(199.68,549.20) scale(1.0000,1)" style="font-size:14.80px;" fill="#333" >400</text>
<text transform="translate(291.95,549.20) scale(1.0000,1)" style="font-size:14.80px;" fill="#333" >600</text>
<text transform="translate(384.48,549.20) scale(1.0000,1)" style="font-size:14.80px;" fill="#333" >800</text>
<text id="tx24" mask="url(#mtx24)" transform="translate(472.46,549.20) scale(1.0000,1)" style="font-size:14.80px;" fill="#333" >1000</text>
<text id="tx25" mask="url(#mtx25)" transform="translate(564.95,549.20) scale(1.0000,1)" style="font-size:14.80px;" fill="#333" >1200</text>
<text id="tx26" mask="url(#mtx26)" transform="translate(657.44,549.20) scale(1.0000,1)" style="font-size:14.80px;" fill="#333" >1400</text>
<text id="tx27" mask="url(#mtx27)" transform="translate(749.94,549.20) scale(1.0000,1)" style="font-size:14.80px;" fill="#333" >1600</text>
<text id="tx28" mask="url(#mtx28)" transform="translate(842.43,549.20) scale(1.0000,1)" style="font-size:14.80px;" fill="#333" >1800</text>
<text transform="translate(935.25,549.20) scale(1.0000,1)" style="font-size:14.80px;" fill="#333" >2000</text>
<text transform="translate(1027.75,549.20) scale(1.0000,1)" style="font-size:14.80px;" fill="#333" >2200</text>
<text transform="translate(1120.24,549.20) scale(1.0000,1)" style="font-size:14.80px;" fill="#333" >2400</text>
<text transform="translate(1212.73,549.20) scale(1.0000,1)" style="font-size:14.80px;" fill="#333" >2600</text>
<rect x="52.0" y="525.70" width="1.1" height="0.60" fill="#000"/>
<rect x="60.0" y="525.62" width="1.1" height="0.68" fill="#000"/>
<rect x="67.0" y="525.70" width="1.1" height="0.60" fill="#000"/>
<rect x="68.0" y="525.59" width="1.1" height="0.71" fill="#000"/>
<rect x="74.0" y="525.70" width="1.1" height="0.60" fill="#000"/>
<rect x="76.0" y="525.54" width="1.1" height="0.76" fill="#000"/>
<rect x="79.0" y="524.17" width="1.1" height="2.13" fill="#000"/>
<rect x="88.0" y="524.92" width="1.1" height="1.38" fill="#000"/>
<rect x="104.0" y="525.67" width="1.1" height="0.63" fill="#000"/>
<rect x="106.0" y="524.07" width="1.1" height="2.23" fill="#000"/>
<rect x="107.0" y="524.04" width="1.1" height="2.26" fill="#000"/>
<rect x="116.0" y="525.54" width="1.1" height="0.76" fill="#000"/>
<rect x="119.0" y="524.61" width="1.1" height="1.69" fill="#000"/>
<rect x="122.0" y="524.96" width="1.1" height="1.34" fill="#000"/>
<rect x="123.0" y="525.26" width="1.1" height="1.04" fill="#000"/>
<rect x="124.0" y="525.69" width="1.1" height="0.61" fill="#000"/>
<rect x="126.0" y="525.52" width="1.1" height="0.78" fill="#000"/>
<rect x="128.0" y="525.70" width="1.1" height="0.60" fill="#000"/>
<rect x="132.0" y="525.66" width="1.1" height="0.64" fill="#000"/>
<rect x="133.0" y="525.21" width="1.1" height="1.09" fill="#000"/>
<rect x="134.0" y="523.71" width="1.1" height="2.59" fill="#000"/>
<rect x="135.0" y="525.02" width="1.1" height="1.28" fill="#000"/>
<rect x="136.0" y="525.69" width="1.1" height="0.61" fill="#000"/>
<rect x="138.0" y="525.70" width="1.1" height="0.60" fill="#000"/>
<rect x="141.0" y="523.39" width="1.1" height="2.91" fill="#000"/>
<rect x="142.0" y="525.70" width="1.1" height="0.60" fill="#000"/>
<rect x="146.0" y="525.67" width="1.1" height="0.63" fill="#000"/>
<rect x="147.0" y="525.60" width="1.1" height="0.70" fill="#000"/>
<rect x="155.0" y="525.24" width="1.1" height="1.06" fill="#000"/>
<rect x="157.0" y="525.60" width="1.1" height="0.70" fill="#000"/>
<rect x="159.0" y="525.42" width="1.1" height="0.88" fill="#000"/>
<rect x="162.0" y="523.66" width="1.1" height="2.64" fill="#000"/>
<rect x="163.0" y="525.38" width="1.1" height="0.92" fill="#000"/>
<rect x="165.0" y="525.47" width="1.1" height="0.83" fill="#000"/>
<rect x="166.0" y="525.70" width="1.1" height="0.60" fill="#000"/>
<rect x="167.0" y="525.70" width="1.1" height="0.60" fill="#000"/>
<rect x="168.0" y="525.31" width="1.1" height="0.99" fill="#000"/>
<rect x="173.0" y="525.61" width="1.1" height="0.69" fill="#000"/>
<rect x="174.0" y="525.41" width="1.1" height="0.89" fill="#000"/>
<rect x="178.0" y="525.62" width="1.1" height="0.68" fill="#000"/>
<rect x="180.0" y="525.70" width="1.1" height="0.60" fill="#000"/>
<rect x="182.0" y="525.04" width="1.1" height="1.26" fill="#000"/>
<rect x="183.0" y="525.70" width="1.1" height="0.60" fill="#000"/>
<rect x="184.0" y="525.69" width="1.1" height="0.61" fill="#000"/>
<rect x="185.0" y="525.52" width="1.1" height="0.78" fill="#000"/>
<rect x="189.0" y="524.08" width="1.1" height="2.22" fill="#000"/>
<rect x="195.0" y="525.63" width="1.1" height="0.67" fill="#000"/>
<rect x="197.0" y="525.70" width="1.1" height="0.60" fill="#000"/>
<rect x="203.0" y="523.45" width="1.1" height="2.85" fill="#000"/>
<rect x="205.0" y="525.17" width="1.1" height="1.13" fill="#000"/>
<rect x="206.0" y="525.68" width="1.1" height="0.62" fill="#000"/>
<rect x="209.0" y="525.60" width="1.1" height="0.70" fill="#000"/>
<rect x="212.0" y="525.41" width="1.1" height="0.89" fill="#000"/>
<rect x="213.0" y="525.68" width="1.1" height="0.62" fill="#000"/>
<rect x="216.0" y="524.92" width="1.1" height="1.38" fill="#000"/>
<rect x="217.0" y="525.44" width="1.1" height="0.86" fill="#000"/>
<rect x="222.0" y="525.70" width="1.1" height="0.60" fill="#000"/>
<rect x="223.0" y="524.45" width="1.1" height="1.85" fill="#000"/>
<rect x="227.0" y="525.25" width="1.1" height="1.05" fill="#000"/>
<rect x="234.0" y="525.52" width="1.1" height="0.78" fill="#000"/>
<rect x="240.0" y="525.69" width="1.1" height="0.61" fill="#000"/>
<rect x="242.0" y="525.62" width="1.1" height="0.68" fill="#000"/>
<rect x="247.0" y="525.66" width="1.1" height="0.64" fill="#000"/>
<rect x="249.0" y="525.63" width="1.1" height="0.67" fill="#000"/>
<rect x="250.0" y="525.70" width="1.1" height="0.60" fill="#000"/>
<rect x="254.0" y="525.68" width="1.1" height="0.62" fill="#000"/>
<rect x="255.0" y="525.21" width="1.1" height="1.09" fill="#000"/>
<rect x="259.0" y="525.49" width="1.1" height="0.81" fill="#000"/>
<rect x="262.0" y="525.53" width="1.1" height="0.77" fill="#000"/>
<rect x="264.0" y="524.16" width="1.1" height="2.14" fill="#000"/>
<rect x="271.0" y="525.61" width="1.1" height="0.69" fill="#000"/>
<rect x="272.0" y="525.40" width="1.1" height="0.90" fill="#000"/>
<rect x="274.0" y="525.54" width="1.1" height="0.76" fill="#000"/>
<rect x="287.0" y="525.34" width="1.1" height="0.96" fill="#000"/>
<rect x="292.0" y="525.59" width="1.1" height="0.71" fill="#000"/>
<rect x="297.0" y="523.80" width="1.1" height="2.50" fill="#000"/>
<rect x="302.0" y="524.64" width="1.1" height="1.66" fill="#000"/>
<rect x="304.0" y="524.96" width="1.1" height="1.34" fill="#000"/>
<rect x="306.0" y="524.70" width="1.1" height="1.60" fill="#000"/>
<rect x="307.0" y="525.36" width="1.1" height="0.94" fill="#000"/>
<rect x="309.0" y="525.45" width="1.1" height="0.85" fill="#000"/>
<rect x="311.0" y="523.60" width="1.1" height="2.70" fill="#000"/>
<rect x="312.0" y="525.70" width="1.1" height="0.60" fill="#000"/>
<rect x="320.0" y="525.55" width="1.1" height="0.75" fill="#000"/>
<rect x="321.0" y="525.70" width="1.1" height="0.60" fill="#000"/>
<rect x="323.0" y="524.94" width="1.1" height="1.36" fill="#000"/>
<rect x="329.0" y="525.70" width="1.1" height="0.60" fill="#000"/>
<rect x="332.0" y="525.70" width="1.1" height="0.60" fill="#000"/>
<rect x="345.0" y="524.59" width="1.1" height="1.71" fill="#000"/>
<rect x="352.0" y="525.12" width="1.1" height="1.18" fill="#000"/>
<rect x="353.0" y="525.41" width="1.1" height="0.89" fill="#000"/>
<rect x="357.0" y="525.69" width="1.1" height="0.61" fill="#000"/>
<rect x="359.0" y="525.68" width="1.1" height="0.62" fill="#000"/>
<rect x="361.0" y="524.08" width="1.1" height="2.22" fill="#000"/>
<rect x="362.0" y="525.64" width="1.1" height="0.66" fill="#000"/>
<rect x="363.0" y="525.70" width="1.1" height="0.60" fill="#000"/>
<rect x="365.0" y="525.56" width="1.1" height="0.74" fill="#000"/>
<rect x="366.0" y="523.39" width="1.1" height="2.91" fill="#000"/>
<rect x="368.0" y="525.10" width="1.1" height="1.20" fill="#000"/>
<rect x="370.0" y="525.70" width="1.1" height="0.60" fill="#000"/>
<rect x="371.0" y="525.70" width="1.1" height="0.60" fill="#000"/>
<rect x="373.0" y="525.64" width="1.1" height="0.66" fill="#000"/>
<rect x="375.0" y="524.16" width="1.1" height="2.14" fill="#000"/>
<rect x="377.0" y="524.04" width="1.1" height="2.26" fill="#000"/>
<rect x="378.0" y="523.55" width="1.1" height="2.75" fill="#000"/>
<rect x="389.0" y="525.16" width="1.1" height="1.14" fill="#000"/>
<rect x="391.0" y="525.61" width="1.1" height="0.69" fill="#000"/>
<rect x="392.0" y="522.67" width="1.1" height="3.63" fill="#000"/>
<rect x="393.0" y="525.51" width="1.1" height="0.79" fill="#000"/>
<rect x="395.0" y="522.63" width="1.1" height="3.67" fill="#000"/>
<rect x="396.0" y="525.70" width="1.1" height="0.60" fill="#000"/>
<rect x="397.0" y="525.64" width="1.1" height="0.66" fill="#000"/>
<rect x="401.0" y="525.39" width="1.1" height="0.91" fill="#000"/>
<rect x="402.0" y="523.96" width="1.1" height="2.34" fill="#000"/>
<rect x="403.0" y="525.68" width="1.1" height="0.62" fill="#000"/>
<rect x="405.0" y="525.66" width="1.1" height="0.64" fill="#000"/>
<rect x="407.0" y="525.70" width="1.1" height="0.60" fill="#000"/>
<rect x="408.0" y="525.69" width="1.1" height="0.61" fill="#000"/>
<rect x="409.0" y="525.69" width="1.1" height="0.61" fill="#000"/>
<rect x="410.0" y="525.69" width="1.1" height="0.61" fill="#000"/>
<rect x="411.0" y="525.20" width="1.1" height="1.10" fill="#000"/>
<rect x="412.0" y="525.63" width="1.1" height="0.67" fill="#000"/>
<rect x="414.0" y="525.70" width="1.1" height="0.60" fill="#000"/>
<rect x="416.0" y="524.38" width="1.1" height="1.92" fill="#000"/>
<rect x="417.0" y="525.43" width="1.1" height="0.87" fill="#000"/>
<rect x="419.0" y="524.45" width="1.1" height="1.85" fill="#000"/>
<rect x="421.0" y="522.14" width="1.1" height="4.16" fill="#000"/>
<rect x="422.0" y="525.52" width="1.1" height="0.78" fill="#000"/>
<rect x="424.0" y="523.93" width="1.1" height="2.37" fill="#000"/>
<rect x="432.0" y="525.43" width="1.1" height="0.87" fill="#000"/>
<rect x="433.0" y="525.70" width="1.1" height="0.60" fill="#000"/>
<rect x="435.0" y="522.92" width="1.1" height="3.38" fill="#000"/>
<rect x="438.0" y="525.67" width="1.1" height="0.63" fill="#000"/>
<rect x="440.0" y="525.70" width="1.1" height="0.60" fill="#000"/>
<rect x="441.0" y="525.70" width="1.1" height="0.60" fill="#000"/>
<rect x="442.0" y="524.98" width="1.1" height="1.32" fill="#000"/>
<rect x="443.0" y="522.49" width="1.1" height="3.81" fill="#000"/>
<rect x="445.0" y="523.35" width="1.1" height="2.95" fill="#000"/>
<rect x="446.0" y="525.51" width="1.1" height="0.79" fill="#000"/>
<rect x="448.0" y="525.47" width="1.1" height="0.83" fill="#000"/>
<rect x="449.0" y="525.69" width="1.1" height="0.61" fill="#000"/>
<rect x="455.0" y="525.49" width="1.1" height="0.81" fill="#000"/>
<rect x="456.0" y="525.70" width="1.1" height="0.60" fill="#000"/>
<rect x="457.0" y="525.69" width="1.1" height="0.61" fill="#000"/>
<rect x="458.0" y="525.69" width="1.1" height="0.61" fill="#000"/>
<rect x="459.0" y="525.16" width="1.1" height="1.14" fill="#000"/>
<rect x="465.0" y="525.70" width="1.1" height="0.60" fill="#000"/>
<rect x="468.0" y="525.63" width="1.1" height="0.67" fill="#000"/>
<rect x="469.0" y="525.58" width="1.1" height="0.72" fill="#000"/>
<rect x="470.0" y="525.61" width="1.1" height="0.69" fill="#000"/>
<rect x="475.0" y="524.46" width="1.1" height="1.84" fill="#000"/>
<rect x="477.0" y="524.82" width="1.1" height="1.48" fill="#000"/>
<rect x="480.0" y="525.37" width="1.1" height="0.93" fill="#000"/>
<rect x="481.0" y="525.69" width="1.1" height="0.61" fill="#000"/>
<rect x="488.0" y="524.42" width="1.1" height="1.88" fill="#000"/>
<rect x="492.0" y="525.69" width="1.1" height="0.61" fill="#000"/>
<rect x="493.0" y="525.11" width="1.1" height="1.19" fill="#000"/>
<rect x="495.0" y="522.70" width="1.1" height="3.60" fill="#000"/>
<rect x="499.0" y="525.69" width="1.1" height="0.61" fill="#000"/>
<rect x="502.0" y="523.31" width="1.1" height="2.99" fill="#000"/>
<rect x="504.0" y="525.59" width="1.1" height="0.71" fill="#000"/>
<rect x="508.0" y="524.82" width="1.1" height="1.48" fill="#000"/>
<rect x="509.0" y="523.23" width="1.1" height="3.07" fill="#000"/>
<rect x="510.0" y="525.66" width="1.1" height="0.64" fill="#000"/>
<rect x="512.0" y="525.43" width="1.1" height="0.87" fill="#000"/>
<rect x="514.0" y="524.42" width="1.1" height="1.88" fill="#000"/>
<rect x="517.0" y="525.55" width="1.1" height="0.75" fill="#000"/>
<rect x="518.0" y="525.52" width="1.1" height="0.78" fill="#000"/>
<rect x="519.0" y="525.70" width="1.1" height="0.60" fill="#000"/>
<rect x="521.0" y="525.53" width="1.1" height="0.77" fill="#000"/>
<rect x="523.0" y="525.70" width="1.1" height="0.60" fill="#000"/>
<rect x="526.0" y="525.18" width="1.1" height="1.12" fill="#000"/>
<rect x="530.0" y="525.69" width="1.1" height="0.61" fill="#000"/>
<rect x="532.0" y="525.70" width="1.1" height="0.60" fill="#000"/>
<rect x="534.0" y="525.67" width="1.1" height="0.63" fill="#000"/>
<rect x="535.0" y="525.68" width="1.1" height="0.62" fill="#000"/>
<rect x="537.0" y="525.52" width="1.1" height="0.78" fill="#000"/>
<rect x="538.0" y="523.38" width="1.1" height="2.92" fill="#000"/>
<rect x="539.0" y="525.16" width="1.1" height="1.14" fill="#000"/>
<rect x="540.0" y="525.70" width="1.1" height="0.60" fill="#000"/>
<rect x="542.0" y="525.70" width="1.1" height="0.60" fill="#000"/>
<rect x="543.0" y="522.34" width="1.1" height="3.96" fill="#000"/>
<rect x="545.0" y="523.73" width="1.1" height="2.57" fill="#000"/>
<rect x="547.0" y="525.66" width="1.1" height="0.64" fill="#000"/>
<rect x="550.0" y="524.52" width="1.1" height="1.78" fill="#000"/>
<rect x="552.0" y="524.53" width="1.1" height="1.77" fill="#000"/>
<rect x="553.0" y="525.69" width="1.1" height="0.61" fill="#000"/>
<rect x="554.0" y="525.70" width="1.1" height="0.60" fill="#000"/>
<rect x="556.0" y="524.98" width="1.1" height="1.32" fill="#000"/>
<rect x="557.0" y="525.53" width="1.1" height="0.77" fill="#000"/>
<rect x="559.0" y="525.46" width="1.1" height="0.84" fill="#000"/>
<rect x="560.0" y="525.69" width="1.1" height="0.61" fill="#000"/>
<rect x="561.0" y="525.31" width="1.1" height="0.99" fill="#000"/>
<rect x="563.0" y="521.86" width="1.1" height="4.44" fill="#000"/>
<rect x="565.0" y="524.50" width="1.1" height="1.80" fill="#000"/>
<rect x="566.0" y="525.36" width="1.1" height="0.94" fill="#000"/>
<rect x="567.0" y="525.37" width="1.1" height="0.93" fill="#000"/>
<rect x="568.0" y="523.90" width="1.1" height="2.40" fill="#000"/>
<rect x="569.0" y="524.52" width="1.1" height="1.78" fill="#000"/>
<rect x="571.0" y="525.70" width="1.1" height="0.60" fill="#000"/>
<rect x="572.0" y="525.70" width="1.1" height="0.60" fill="#000"/>
<rect x="573.0" y="525.65" width="1.1" height="0.65" fill="#000"/>
<rect x="574.0" y="525.01" width="1.1" height="1.29" fill="#000"/>
<rect x="577.0" y="525.23" width="1.1" height="1.07" fill="#000"/>
<rect x="578.0" y="524.73" width="1.1" height="1.57" fill="#000"/>
<rect x="579.0" y="525.70" width="1.1" height="0.60" fill="#000"/>
<rect x="580.0" y="524.79" width="1.1" height="1.51" fill="#000"/>
<rect x="581.0" y="521.88" width="1.1" height="4.42" fill="#000"/>
<rect x="582.0" y="525.64" width="1.1" height="0.66" fill="#000"/>
<rect x="585.0" y="523.88" width="1.1" height="2.42" fill="#000"/>
<rect x="586.0" y="521.83" width="1.1" height="4.47" fill="#000"/>
<rect x="590.0" y="521.50" width="1.1" height="4.80" fill="#000"/>
<rect x="591.0" y="525.64" width="1.1" height="0.66" fill="#000"/>
<rect x="593.0" y="524.72" width="1.1" height="1.58" fill="#000"/>
<rect x="597.0" y="525.29" width="1.1" height="1.01" fill="#000"/>
<rect x="599.0" y="525.55" width="1.1" height="0.75" fill="#000"/>
<rect x="601.0" y="525.70" width="1.1" height="0.60" fill="#000"/>
<rect x="602.0" y="521.51" width="1.1" height="4.79" fill="#000"/>
<rect x="605.0" y="522.49" width="1.1" height="3.81" fill="#000"/>
<rect x="606.0" y="525.68" width="1.1" height="0.62" fill="#000"/>
<rect x="609.0" y="522.42" width="1.1" height="3.88" fill="#000"/>
<rect x="610.0" y="525.09" width="1.1" height="1.21" fill="#000"/>
<rect x="611.0" y="525.69" width="1.1" height="0.61" fill="#000"/>
<rect x="612.0" y="525.70" width="1.1" height="0.60" fill="#000"/>
<rect x="613.0" y="525.40" width="1.1" height="0.90" fill="#000"/>
<rect x="614.0" y="524.83" width="1.1" height="1.47" fill="#000"/>
<rect x="615.0" y="525.36" width="1.1" height="0.94" fill="#000"/>
<rect x="616.0" y="525.57" width="1.1" height="0.73" fill="#000"/>
<rect x="618.0" y="525.54" width="1.1" height="0.76" fill="#000"/>
<rect x="619.0" y="525.61" width="1.1" height="0.69" fill="#000"/>
<rect x="621.0" y="525.36" width="1.1" height="0.94" fill="#000"/>
<rect x="622.0" y="525.52" width="1.1" height="0.78" fill="#000"/>
<rect x="626.0" y="525.10" width="1.1" height="1.20" fill="#000"/>
<rect x="627.0" y="525.63" width="1.1" height="0.67" fill="#000"/>
<rect x="628.0" y="524.51" width="1.1" height="1.79" fill="#000"/>
<rect x="631.0" y="525.68" width="1.1" height="0.62" fill="#000"/>
<rect x="632.0" y="525.48" width="1.1" height="0.82" fill="#000"/>
<rect x="633.0" y="525.67" width="1.1" height="0.63" fill="#000"/>
<rect x="634.0" y="524.18" width="1.1" height="2.12" fill="#000"/>
<rect x="638.0" y="525.66" width="1.1" height="0.64" fill="#000"/>
<rect x="641.0" y="525.20" width="1.1" height="1.10" fill="#000"/>
<rect x="643.0" y="524.47" width="1.1" height="1.83" fill="#000"/>
<rect x="644.0" y="523.23" width="1.1" height="3.07" fill="#000"/>
<rect x="645.0" y="524.77" width="1.1" height="1.53" fill="#000"/>
<rect x="646.0" y="525.31" width="1.1" height="0.99" fill="#000"/>
<rect x="647.0" y="521.75" width="1.1" height="4.55" fill="#000"/>
<rect x="649.0" y="525.39" width="1.1" height="0.91" fill="#000"/>
<rect x="654.0" y="525.09" width="1.1" height="1.21" fill="#000"/>
<rect x="656.0" y="521.57" width="1.1" height="4.73" fill="#000"/>
<rect x="658.0" y="525.01" width="1.1" height="1.29" fill="#000"/>
<rect x="661.0" y="523.75" width="1.1" height="2.55" fill="#000"/>
<rect x="662.0" y="525.70" width="1.1" height="0.60" fill="#000"/>
<rect x="665.0" y="525.40" width="1.1" height="0.90" fill="#000"/>
<rect x="668.0" y="522.38" width="1.1" height="3.92" fill="#000"/>
<rect x="669.0" y="525.57" width="1.1" height="0.73" fill="#000"/>
<rect x="676.0" y="525.62" width="1.1" height="0.68" fill="#000"/>
<rect x="677.0" y="524.19" width="1.1" height="2.11" fill="#000"/>
<rect x="678.0" y="525.44" width="1.1" height="0.86" fill="#000"/>
<rect x="680.0" y="524.77" width="1.1" height="1.53" fill="#000"/>
<rect x="681.0" y="525.70" width="1.1" height="0.60" fill="#000"/>
<rect x="686.0" y="525.70" width="1.1" height="0.60" fill="#000"/>
<rect x="687.0" y="525.59" width="1.1" height="0.71" fill="#000"/>
<rect x="689.0" y="525.68" width="1.1" height="0.62" fill="#000"/>
<rect x="696.0" y="525.43" width="1.1" height="0.87" fill="#000"/>
<rect x="697.0" y="525.68" width="1.1" height="0.62" fill="#000"/>
<rect x="702.0" y="525.58" width="1.1" height="0.72" fill="#000"/>
<rect x="704.0" y="524.72" width="1.1" height="1.58" fill="#000"/>
<rect x="706.0" y="525.69" width="1.1" height="0.61" fill="#000"/>
<rect x="709.0" y="525.47" width="1.1" height="0.83" fill="#000"/>
<rect x="710.0" y="524.64" width="1.1" height="1.66" fill="#000"/>
<rect x="713.0" y="525.65" width="1.1" height="0.65" fill="#000"/>
<rect x="715.0" y="525.70" width="1.1" height="0.60" fill="#000"/>
<rect x="716.0" y="525.24" width="1.1" height="1.06" fill="#000"/>
<rect x="721.0" y="525.70" width="1.1" height="0.60" fill="#000"/>
<rect x="723.0" y="525.70" width="1.1" height="0.60" fill="#000"/>
<rect x="725.0" y="525.70" width="1.1" height="0.60" fill="#000"/>
<rect x="726.0" y="524.76" width="1.1" height="1.54" fill="#000"/>
<rect x="727.0" y="524.56" width="1.1" height="1.74" fill="#000"/>
<rect x="728.0" y="525.50" width="1.1" height="0.80" fill="#000"/>
<rect x="730.0" y="524.08" width="1.1" height="2.22" fill="#000"/>
<rect x="731.0" y="524.89" width="1.1" height="1.41" fill="#000"/>
<rect x="735.0" y="525.70" width="1.1" height="0.60" fill="#000"/>
<rect x="737.0" y="524.88" width="1.1" height="1.42" fill="#000"/>
<rect x="740.0" y="525.70" width="1.1" height="0.60" fill="#000"/>
<rect x="742.0" y="525.64" width="1.1" height="0.66" fill="#000"/>
<rect x="743.0" y="525.47" width="1.1" height="0.83" fill="#000"/>
<rect x="745.0" y="525.70" width="1.1" height="0.60" fill="#000"/>
<rect x="746.0" y="524.98" width="1.1" height="1.32" fill="#000"/>
<rect x="747.0" y="525.69" width="1.1" height="0.61" fill="#000"/>
<rect x="753.0" y="524.31" width="1.1" height="1.99" fill="#000"/>
<rect x="754.0" y="525.70" width="1.1" height="0.60" fill="#000"/>
<rect x="755.0" y="525.01" width="1.1" height="1.29" fill="#000"/>
<rect x="761.0" y="524.09" width="1.1" height="2.21" fill="#000"/>
<rect x="763.0" y="525.52" width="1.1" height="0.78" fill="#000"/>
<rect x="764.0" y="525.70" width="1.1" height="0.60" fill="#000"/>
<rect x="769.0" y="525.13" width="1.1" height="1.17" fill="#000"/>
<rect x="773.0" y="525.70" width="1.1" height="0.60" fill="#000"/>
<rect x="776.0" y="524.83" width="1.1" height="1.47" fill="#000"/>
<rect x="778.0" y="524.72" width="1.1" height="1.58" fill="#000"/>
<rect x="779.0" y="525.68" width="1.1" height="0.62" fill="#000"/>
<rect x="783.0" y="524.26" width="1.1" height="2.04" fill="#000"/>
<rect x="786.0" y="525.68" width="1.1" height="0.62" fill="#000"/>
<rect x="787.0" y="525.70" width="1.1" height="0.60" fill="#000"/>
<rect x="792.0" y="524.29" width="1.1" height="2.01" fill="#000"/>
<rect x="794.0" y="525.70" width="1.1" height="0.60" fill="#000"/>
<rect x="797.0" y="525.28" width="1.1" height="1.02" fill="#000"/>
<rect x="798.0" y="525.64" width="1.1" height="0.66" fill="#000"/>
<rect x="800.0" y="525.69" width="1.1" height="0.61" fill="#000"/>
<rect x="803.0" y="524.77" width="1.1" height="1.53" fill="#000"/>
<rect x="805.0" y="525.33" width="1.1" height="0.97" fill="#000"/>
<rect x="809.0" y="525.58" width="1.1" height="0.72" fill="#000"/>
<rect x="810.0" y="525.62" width="1.1" height="0.68" fill="#000"/>
<rect x="812.0" y="525.69" width="1.1" height="0.61" fill="#000"/>
<rect x="813.0" y="525.65" width="1.1" height="0.65" fill="#000"/>
<rect x="816.0" y="525.52" width="1.1" height="0.78" fill="#000"/>
<rect x="817.0" y="525.69" width="1.1" height="0.61" fill="#000"/>
<rect x="818.0" y="524.07" width="1.1" height="2.23" fill="#000"/>
<rect x="821.0" y="525.70" width="1.1" height="0.60" fill="#000"/>
<rect x="822.0" y="525.68" width="1.1" height="0.62" fill="#000"/>
<rect x="824.0" y="525.64" width="1.1" height="0.66" fill="#000"/>
<rect x="827.0" y="525.70" width="1.1" height="0.60" fill="#000"/>
<rect x="829.0" y="525.68" width="1.1" height="0.62" fill="#000"/>
<rect x="830.0" y="525.69" width="1.1" height="0.61" fill="#000"/>
<rect x="831.0" y="525.69" width="1.1" height="0.61" fill="#000"/>
<rect x="832.0" y="525.56" width="1.1" height="0.74" fill="#000"/>
<rect x="834.0" y="525.64" width="1.1" height="0.66" fill="#000"/>
<rect x="839.0" y="524.89" width="1.1" height="1.41" fill="#000"/>
<rect x="840.0" y="525.49" width="1.1" height="0.81" fill="#000"/>
<rect x="843.0" y="525.70" width="1.1" height="0.60" fill="#000"/>
<rect x="844.0" y="524.28" width="1.1" height="2.02" fill="#000"/>
<rect x="847.0" y="524.75" width="1.1" height="1.55" fill="#000"/>
<rect x="851.0" y="525.70" width="1.1" height="0.60" fill="#000"/>
<rect x="860.0" y="525.70" width="1.1" height="0.60" fill="#000"/>
<rect x="862.0" y="525.56" width="1.1" height="0.74" fill="#000"/>
<rect x="865.0" y="524.96" width="1.1" height="1.34" fill="#000"/>
<rect x="866.0" y="525.51" width="1.1" height="0.79" fill="#000"/>
<rect x="869.0" y="523.80" width="1.1" height="2.50" fill="#000"/>
<rect x="877.0" y="525.69" width="1.1" height="0.61" fill="#000"/>
<rect x="878.0" y="525.70" width="1.1" height="0.60" fill="#000"/>
<rect x="882.0" y="524.98" width="1.1" height="1.32" fill="#000"/>
<rect x="883.0" y="525.68" width="1.1" height="0.62" fill="#000"/>
<rect x="884.0" y="524.09" width="1.1" height="2.21" fill="#000"/>
<rect x="887.0" y="525.70" width="1.1" height="0.60" fill="#000"/>
<rect x="888.0" y="523.97" width="1.1" height="2.33" fill="#000"/>
<rect x="892.0" y="525.68" width="1.1" height="0.62" fill="#000"/>
<rect x="894.0" y="525.66" width="1.1" height="0.64" fill="#000"/>
<rect x="896.0" y="525.25" width="1.1" height="1.05" fill="#000"/>
<rect x="897.0" y="525.34" width="1.1" height="0.96" fill="#000"/>
<rect x="898.0" y="524.95" width="1.1" height="1.35" fill="#000"/>
<rect x="903.0" y="525.67" width="1.1" height="0.63" fill="#000"/>
<rect x="912.0" y="525.70" width="1.1" height="0.60" fill="#000"/>
<rect x="913.0" y="525.18" width="1.1" height="1.12" fill="#000"/>
<rect x="917.0" y="525.70" width="1.1" height="0.60" fill="#000"/>
<rect x="918.0" y="525.70" width="1.1" height="0.60" fill="#000"/>
<rect x="922.0" y="525.33" width="1.1" height="0.97" fill="#000"/>
<rect x="926.0" y="524.52" width="1.1" height="1.78" fill="#000"/>
<rect x="930.0" y="525.69" width="1.1" height="0.61" fill="#000"/>
<rect x="931.0" y="525.69" width="1.1" height="0.61" fill="#000"/>
<rect x="932.0" y="525.32" width="1.1" height="0.98" fill="#000"/>
<rect x="934.0" y="524.43" width="1.1" height="1.87" fill="#000"/>
<rect x="935.0" y="524.10" width="1.1" height="2.20" fill="#000"/>
<rect x="938.0" y="525.26" width="1.1" height="1.04" fill="#000"/>
<rect x="940.0" y="525.70" width="1.1" height="0.60" fill="#000"/>
<rect x="942.0" y="525.70" width="1.1" height="0.60" fill="#000"/>
<rect x="944.0" y="525.70" width="1.1" height="0.60" fill="#000"/>
<rect x="945.0" y="525.70" width="1.1" height="0.60" fill="#000"/>
<rect x="949.0" y="525.01" width="1.1" height="1.29" fill="#000"/>
<rect x="952.0" y="525.69" width="1.1" height="0.61" fill="#000"/>
<rect x="953.0" y="525.66" width="1.1" height="0.64" fill="#000"/>
<rect x="962.0" y="525.64" width="1.1" height="0.66" fill="#000"/>
<rect x="964.0" y="525.59" width="1.1" height="0.71" fill="#000"/>
<rect x="965.0" y="525.67" width="1.1" height="0.63" fill="#000"/>
<rect x="968.0" y="525.70" width="1.1" height="0.60" fill="#000"/>
<rect x="972.0" y="525.69" width="1.1" height="0.61" fill="#000"/>
<rect x="974.0" y="525.61" width="1.1" height="0.69" fill="#000"/>
<rect x="977.0" y="525.20" width="1.1" height="1.10" fill="#000"/>
<rect x="978.0" y="525.70" width="1.1" height="0.60" fill="#000"/>
<rect x="979.0" y="525.42" width="1.1" height="0.88" fill="#000"/>
<rect x="982.0" y="525.34" width="1.1" height="0.96" fill="#000"/>
<rect x="983.0" y="525.70" width="1.1" height="0.60" fill="#000"/>
<rect x="984.0" y="525.63" width="1.1" height="0.67" fill="#000"/>
<rect x="990.0" y="525.21" width="1.1" height="1.09" fill="#000"/>
<rect x="993.0" y="525.51" width="1.1" height="0.79" fill="#000"/>
<rect x="996.0" y="525.44" width="1.1" height="0.86" fill="#000"/>
<rect x="1001.0" y="525.55" width="1.1" height="0.75" fill="#000"/>
<rect x="1002.0" y="525.70" width="1.1" height="0.60" fill="#000"/>
<rect x="1003.0" y="525.57" width="1.1" height="0.73" fill="#000"/>
<rect x="1012.0" y="525.24" width="1.1" height="1.06" fill="#000"/>
<rect x="1013.0" y="525.46" width="1.1" height="0.84" fill="#000"/>
<rect x="1015.0" y="525.70" width="1.1" height="0.60" fill="#000"/>
<rect x="1020.0" y="525.59" width="1.1" height="0.71" fill="#000"/>
<rect x="1024.0" y="525.31" width="1.1" height="0.99" fill="#000"/>
<rect x="1040.0" y="525.56" width="1.1" height="0.74" fill="#000"/>
<rect x="1043.0" y="525.70" width="1.1" height="0.60" fill="#000"/>
<rect x="1050.0" y="525.54" width="1.1" height="0.76" fill="#000"/>
<rect x="1053.0" y="525.53" width="1.1" height="0.77" fill="#000"/>
<rect x="1058.0" y="525.58" width="1.1" height="0.72" fill="#000"/>
<rect x="1059.0" y="525.70" width="1.1" height="0.60" fill="#000"/>
<rect x="1062.0" y="525.45" width="1.1" height="0.85" fill="#000"/>
<rect x="1063.0" y="525.66" width="1.1" height="0.64" fill="#000"/>
<rect x="1065.0" y="525.67" width="1.1" height="0.63" fill="#000"/>
<rect x="1068.0" y="525.70" width="1.1" height="0.60" fill="#000"/>
<rect x="1069.0" y="525.70" width="1.1" height="0.60" fill="#000"/>
<rect x="1070.0" y="525.37" width="1.1" height="0.93" fill="#000"/>
<rect x="1072.0" y="525.66" width="1.1" height="0.64" fill="#000"/>
<rect x="1077.0" y="525.68" width="1.1" height="0.62" fill="#000"/>
<rect x="1082.0" y="525.67" width="1.1" height="0.63" fill="#000"/>
<rect x="1084.0" y="525.70" width="1.1" height="0.60" fill="#000"/>
<rect x="1086.0" y="525.64" width="1.1" height="0.66" fill="#000"/>
<rect x="1087.0" y="525.70" width="1.1" height="0.60" fill="#000"/>
<rect x="1097.0" y="525.70" width="1.1" height="0.60" fill="#000"/>
<rect x="1101.0" y="525.39" width="1.1" height="0.91" fill="#000"/>
<rect x="1102.0" y="525.61" width="1.1" height="0.69" fill="#000"/>
<rect x="1103.0" y="525.70" width="1.1" height="0.60" fill="#000"/>
<rect x="1112.0" y="525.70" width="1.1" height="0.60" fill="#000"/>
<rect x="1120.0" y="525.33" width="1.1" height="0.97" fill="#000"/>
<rect x="1128.0" y="525.46" width="1.1" height="0.84" fill="#000"/>
<rect x="1130.0" y="525.70" width="1.1" height="0.60" fill="#000"/>
<rect x="1131.0" y="525.58" width="1.1" height="0.72" fill="#000"/>
<rect x="1132.0" y="525.12" width="1.1" height="1.18" fill="#000"/>
<rect x="1133.0" y="525.24" width="1.1" height="1.06" fill="#000"/>
<rect x="1137.0" y="525.55" width="1.1" height="0.75" fill="#000"/>
<rect x="1138.0" y="525.14" width="1.1" height="1.16" fill="#000"/>
<rect x="1140.0" y="525.66" width="1.1" height="0.64" fill="#000"/>
<rect x="1143.0" y="525.63" width="1.1" height="0.67" fill="#000"/>
<rect x="1152.0" y="525.68" width="1.1" height="0.62" fill="#000"/>
<rect x="1155.0" y="525.68" width="1.1" height="0.62" fill="#000"/>
<rect x="1158.0" y="525.19" width="1.1" height="1.11" fill="#000"/>
<rect x="1160.0" y="525.66" width="1.1" height="0.64" fill="#000"/>
<rect x="1164.0" y="525.36" width="1.1" height="0.94" fill="#000"/>
<rect x="1165.0" y="525.35" width="1.1" height="0.95" fill="#000"/>
<rect x="1166.0" y="525.70" width="1.1" height="0.60" fill="#000"/>
<rect x="1172.0" y="525.56" width="1.1" height="0.74" fill="#000"/>
<rect x="1174.0" y="525.69" width="1.1" height="0.61" fill="#000"/>
<rect x="1175.0" y="525.70" width="1.1" height="0.60" fill="#000"/>
<rect x="1177.0" y="525.70" width="1.1" height="0.60" fill="#000"/>
<rect x="1178.0" y="525.43" width="1.1" height="0.87" fill="#000"/>
<rect x="1184.0" y="525.70" width="1.1" height="0.60" fill="#000"/>
<rect x="1186.0" y="525.69" width="1.1" height="0.61" fill="#000"/>
<rect x="1187.0" y="525.03" width="1.1" height="1.27" fill="#000"/>
<rect x="1192.0" y="525.67" width="1.1" height="0.63" fill="#000"/>
<rect x="1193.0" y="525.64" width="1.1" height="0.66" fill="#000"/>
<rect x="1200.0" y="525.25" width="1.1" height="1.05" fill="#000"/>
<rect x="1202.0" y="525.54" width="1.1" height="0.76" fill="#000"/>
<rect x="1206.0" y="525.70" width="1.1" height="0.60" fill="#000"/>
<rect x="1207.0" y="525.70" width="1.1" height="0.60" fill="#000"/>
<rect x="1210.0" y="525.70" width="1.1" height="0.60" fill="#000"/>
<rect x="1211.0" y="525.07" width="1.1" height="1.23" fill="#000"/>
<rect x="1214.0" y="525.70" width="1.1" height="0.60" fill="#000"/>
<rect x="1216.0" y="525.65" width="1.1" height="0.65" fill="#000"/>
<rect x="1221.0" y="525.69" width="1.1" height="0.61" fill="#000"/>
<rect x="1229.0" y="525.68" width="1.1" height="0.62" fill="#000"/>
<rect x="100.60" y="511.25" width="1.30" height="16.75" fill="#000"/>
<rect x="112.35" y="497.00" width="1.30" height="31.00" fill="#000"/>
<rect x="111.10" y="505.00" width="1.30" height="23.00" fill="#000"/>
<rect x="138.85" y="520.50" width="1.30" height="7.50" fill="#000"/>
<rect x="239.85" y="511.25" width="1.30" height="16.75" fill="#000"/>
<rect x="272.60" y="515.00" width="1.30" height="13.00" fill="#000"/>
<rect x="318.10" y="512.50" width="1.30" height="15.50" fill="#000"/>
<rect x="381.35" y="501.25" width="1.30" height="26.75" fill="#000"/>
<rect x="382.00" y="513.00" width="1.60" height="15.00" fill="#000"/>
<rect x="392.85" y="508.75" width="1.30" height="19.25" fill="#000"/>
<rect x="394.40" y="520.00" width="1.20" height="8.00" fill="#000"/>
<rect x="413.40" y="517.00" width="1.20" height="11.00" fill="#000"/>
<rect x="438.10" y="341.25" width="2.00" height="186.75" fill="#000"/>
<rect x="437.70" y="519.00" width="3.20" height="9.00" fill="#000"/>
<rect x="452.65" y="521.00" width="1.20" height="7.00" fill="#000"/>
<rect x="478.35" y="501.25" width="1.30" height="26.75" fill="#000"/>
<rect x="478.80" y="512.00" width="1.60" height="16.00" fill="#000"/>
<rect x="482.40" y="516.00" width="1.20" height="12.00" fill="#000"/>
<rect x="534.90" y="516.00" width="1.20" height="12.00" fill="#000"/>
<rect x="536.90" y="518.00" width="1.20" height="10.00" fill="#000"/>
<rect x="429.00" y="523.00" width="2.00" height="5.00" fill="#000"/>
<rect x="433.00" y="521.00" width="2.00" height="7.00" fill="#000"/>
<rect x="565.00" y="519.40" width="1.20" height="8.60" fill="#000"/>
<rect x="569.15" y="518.00" width="1.20" height="10.00" fill="#000"/>
<rect x="572.30" y="506.90" width="1.20" height="21.10" fill="#000"/>
<rect x="572.30" y="513.00" width="2.00" height="15.00" fill="#000"/>
<rect x="576.85" y="461.50" width="1.30" height="66.50" fill="#000"/>
<rect x="577.00" y="518.00" width="2.00" height="10.00" fill="#000"/>
<rect x="582.90" y="523.00" width="1.20" height="5.00" fill="#000"/>
<rect x="589.40" y="512.25" width="1.20" height="15.75" fill="#000"/>
<rect x="589.50" y="517.50" width="2.00" height="10.50" fill="#000"/>
<rect x="593.80" y="523.00" width="1.20" height="5.00" fill="#000"/>
<rect x="599.15" y="521.00" width="1.20" height="7.00" fill="#000"/>
<rect x="603.15" y="512.25" width="1.20" height="15.75" fill="#000"/>
<rect x="603.20" y="518.75" width="2.00" height="9.25" fill="#000"/>
<rect x="607.40" y="521.90" width="1.20" height="6.10" fill="#000"/>
<rect x="610.00" y="522.75" width="1.20" height="5.25" fill="#000"/>
<rect x="613.80" y="523.00" width="1.20" height="5.00" fill="#000"/>
<rect x="620.40" y="516.00" width="1.20" height="12.00" fill="#000"/>
<rect x="620.50" y="521.00" width="2.00" height="7.00" fill="#000"/>
<rect x="626.50" y="521.90" width="3.00" height="6.10" fill="#000"/>
<rect x="628.75" y="510.60" width="1.30" height="17.40" fill="#000"/>
<rect x="628.75" y="517.50" width="2.50" height="10.50" fill="#000"/>
<rect x="633.90" y="461.00" width="1.40" height="67.00" fill="#000"/>
<rect x="633.50" y="514.40" width="3.00" height="13.60" fill="#000"/>
<rect x="636.65" y="521.00" width="1.20" height="7.00" fill="#000"/>
<rect x="639.70" y="490.00" width="1.80" height="38.00" fill="#000"/>
<rect x="643.60" y="364.30" width="1.40" height="163.70" fill="#000"/>
<rect x="644.30" y="467.50" width="2.00" height="60.50" fill="#000"/>
<rect x="644.35" y="521.00" width="2.50" height="7.00" fill="#000"/>
<rect x="659.00" y="522.75" width="2.00" height="5.25" fill="#000"/>
<rect x="666.30" y="525.00" width="1.20" height="3.00" fill="#000"/>
<rect x="705.40" y="523.75" width="1.20" height="4.25" fill="#000"/>
<rect x="708.90" y="518.75" width="1.20" height="9.25" fill="#000"/>
<rect x="720.65" y="523.00" width="1.20" height="5.00" fill="#000"/>
<rect x="739.40" y="524.00" width="1.20" height="4.00" fill="#000"/>
<rect x="807.15" y="522.75" width="1.20" height="5.25" fill="#000"/>
<rect x="808.80" y="520.60" width="1.20" height="7.40" fill="#000"/>
<rect x="837.90" y="517.25" width="1.20" height="10.75" fill="#000"/>
<rect x="906.30" y="521.00" width="1.20" height="7.00" fill="#000"/>
<rect x="973.40" y="524.40" width="2.00" height="3.60" fill="#000"/>
<rect x="1188.45" y="523.40" width="1.50" height="4.60" fill="#000"/>
<line x1="221.25" y1="497" x2="240" y2="511.25" stroke="#111" stroke-width="1.2"/>
<line x1="455" y1="490" x2="453" y2="521.25" stroke="#111" stroke-width="1.2"/>
<line x1="522" y1="479.5" x2="478.75" y2="501.25" stroke="#111" stroke-width="1.2"/>
<line x1="588" y1="460.5" x2="584.5" y2="518.75" stroke="#111" stroke-width="1.2"/>
<line x1="623" y1="486.25" x2="630" y2="512.5" stroke="#111" stroke-width="1.2"/>
<line x1="663" y1="486.25" x2="661.25" y2="517.5" stroke="#111" stroke-width="1.2"/>
<line x1="710.5" y1="494.5" x2="709.5" y2="523.75" stroke="#111" stroke-width="1.2"/>
<line x1="786.25" y1="494.5" x2="810" y2="516.25" stroke="#111" stroke-width="1.2"/>
<line x1="969.5" y1="512.5" x2="975" y2="525" stroke="#111" stroke-width="1.2"/>
<line x1="1026.25" y1="506.25" x2="1018" y2="518.75" stroke="#111" stroke-width="1.2"/>
<line x1="1070.7" y1="514.4" x2="1049.6" y2="525.5" stroke="#111" stroke-width="1.2"/>
<line x1="1182.4" y1="499.5" x2="1189" y2="525.5" stroke="#111" stroke-width="1.2"/>
<text id="tx29" mask="url(#mtx29)" transform="translate(200.04,493.43) scale(1.0200,1)" style="font-size:16.80px;" fill="#111" >461.22</text>
<text transform="translate(250.16,508.43) scale(1.0200,1)" style="font-size:16.80px;" fill="#111" >532.25</text>
<text id="tx30" mask="url(#mtx30)" transform="translate(303.78,508.68) scale(1.0200,1)" style="font-size:16.80px;" fill="#111" >631.32</text>
<text transform="translate(360.82,495.93) scale(1.0200,1)" style="font-size:16.80px;" fill="#111" >768.38</text>
<text id="tx31" mask="url(#mtx31)" transform="translate(443.71,486.70) scale(1.0000,1)" style="font-size:15.00px;" fill="#111" >916.37</text>
<text transform="translate(503.82,470.93) scale(1.0200,1)" style="font-size:16.80px;" fill="#111" >978.52</text>
<text id="tx32" mask="url(#mtx32)" transform="translate(551.44,451.68) scale(1.0200,1)" style="font-size:16.80px;" fill="#111" >1203.6</text>
<text id="tx33" mask="url(#mtx33)" transform="translate(589.15,482.18) scale(1.0200,1)" style="font-size:16.80px;" fill="#111" >1302.7</text>
<text id="tx34" mask="url(#mtx34)" transform="translate(646.15,482.20) scale(1.0000,1)" style="font-size:15.00px;" fill="#111" >1368.54</text>
<text id="tx35" mask="url(#mtx35)" transform="translate(694.41,490.95) scale(1.0000,1)" style="font-size:15.00px;" fill="#111" >1467.61</text>
<text id="tx36" mask="url(#mtx36)" transform="translate(769.05,490.95) scale(1.0000,1)" style="font-size:15.00px;" fill="#111" >1692.72</text>
<text id="tx37" mask="url(#mtx37)" transform="translate(812.68,510.18) scale(1.0200,1)" style="font-size:16.80px;" fill="#111" >1754.86</text>
<text id="tx38" mask="url(#mtx38)" transform="translate(882.48,517.20) scale(1.0000,1)" style="font-size:15.00px;" fill="#111" >1902.86</text>
<text transform="translate(947.89,505.95) scale(1.0000,1)" style="font-size:15.00px;" fill="#111" >2039.92</text>
<text id="tx39" mask="url(#mtx39)" transform="translate(1016.56,502.20) scale(1.0000,1)" style="font-size:15.00px;" fill="#111" >2138.98</text>
<text id="tx40" mask="url(#mtx40)" transform="translate(1073.99,510.30) scale(1.0000,1)" style="font-size:15.00px;" fill="#111" >2210.02</text>
<text id="tx41" mask="url(#mtx41)" transform="translate(1158.00,495.48) scale(1.0200,1)" style="font-size:16.80px;" fill="#111" >2512.1</text>
<text transform="translate(217.37,470.93) scale(1.0000,1)" style="font-size:16.90px;font-weight:bold;" fill="#2a88bd" >c5</text>
<text transform="translate(267.45,486.68) scale(1.0000,1)" style="font-size:16.90px;font-weight:bold;" fill="#2a88bd" >c6</text>
<text transform="translate(321.87,485.93) scale(1.0000,1)" style="font-size:16.90px;font-weight:bold;" fill="#2a88bd" >c7</text>
<text transform="translate(378.04,474.18) scale(1.0000,1)" style="font-size:16.90px;font-weight:bold;" fill="#2a88bd" >c8</text>
<text id="tx42" mask="url(#mtx42)" transform="translate(515.93,450.18) scale(1.0000,1)" style="font-size:16.90px;font-weight:bold;" fill="#2a88bd" >c10</text>
<text id="tx43" mask="url(#mtx43)" transform="translate(563.81,430.93) scale(1.0000,1)" style="font-size:16.90px;font-weight:bold;" fill="#2a88bd" >c12</text>
<text id="tx44" mask="url(#mtx44)" transform="translate(602.14,460.93) scale(1.0000,1)" style="font-size:16.90px;font-weight:bold;" fill="#2a88bd" >c13</text>
<text id="tx45" mask="url(#mtx45)" transform="translate(829.63,488.43) scale(1.0000,1)" style="font-size:16.90px;font-weight:bold;" fill="#2a88bd" >c14</text>
<text id="tx46" mask="url(#mtx46)" transform="translate(1169.80,473.88) scale(1.0000,1)" style="font-size:16.90px;font-weight:bold;" fill="#2a88bd" >c15</text>
<text transform="translate(458.55,467.90) scale(1.0000,1)" style="font-size:15.30px;font-weight:bold;" fill="#cf2a3e" >z2</text>
<text transform="translate(664.64,462.75) scale(1.0000,1)" style="font-size:15.30px;font-weight:bold;" fill="#cf2a3e" >z3</text>
<text transform="translate(711.91,471.90) scale(1.0000,1)" style="font-size:15.30px;font-weight:bold;" fill="#cf2a3e" >z4</text>
<text transform="translate(787.52,471.75) scale(1.0000,1)" style="font-size:15.30px;font-weight:bold;" fill="#cf2a3e" >z6</text>
<text transform="translate(901.85,497.75) scale(1.0000,1)" style="font-size:15.30px;font-weight:bold;" fill="#cf2a3e" >z8</text>
<text transform="translate(966.64,486.75) scale(1.0000,1)" style="font-size:15.30px;font-weight:bold;" fill="#cf2a3e" >z9</text>
<text id="tx47" mask="url(#mtx47)" transform="translate(1031.18,482.75) scale(1.0000,1)" style="font-size:15.30px;font-weight:bold;" fill="#cf2a3e" >z10</text>
<text id="tx48" mask="url(#mtx48)" transform="translate(1089.50,491.15) scale(1.0000,1)" style="font-size:15.30px;font-weight:bold;" fill="#cf2a3e" >z11</text>
<text transform="translate(407.26,88.42) scale(1.0630,1)" style="font-size:18.00px;" fill="#000" >[M+3H]3+</text>
<text transform="translate(597.15,87.47) scale(1.0701,1)" style="font-size:18.00px;" fill="#000" >[M+3H]2+</text>
<text transform="translate(402.91,334.22) scale(1.0604,1)" style="font-size:18.00px;" fill="#000" >[M+3H]3+</text>
<text transform="translate(603.65,356.92) scale(1.0695,1)" style="font-size:18.00px;" fill="#000" >[M+3H]2+</text>
<text id="tx49" mask="url(#mtx49)" transform="translate(63.32,128.50) scale(1.0886,1)" style="font-size:25.00px;" fill="#000" >RT 11.7 min</text>
<text id="tx50" mask="url(#mtx50)" transform="translate(59.57,383.75) scale(1.0906,1)" style="font-size:25.00px;" fill="#000" >RT 11.9 min</text>
<text transform="translate(725.24,127.60) scale(1.0000,1)" style="font-size:12.50px;" fill="#111" >S</text>
<text transform="translate(746.61,127.60) scale(1.0000,1)" style="font-size:12.50px;" fill="#111" >M</text>
<text transform="translate(770.74,127.60) scale(1.0000,1)" style="font-size:12.50px;" fill="#111" >A</text>
<text transform="translate(793.06,127.60) scale(1.0000,1)" style="font-size:12.50px;" fill="#111" >P</text>
<text transform="translate(815.48,127.60) scale(1.0000,1)" style="font-size:12.50px;" fill="#111" >G</text>
<text transform="translate(838.24,127.60) scale(1.0000,1)" style="font-size:12.50px;" fill="#111" >A</text>
<text transform="translate(861.04,127.60) scale(1.0000,1)" style="font-size:12.50px;" fill="#111" >V</text>
<text transform="translate(883.30,127.60) scale(1.0000,1)" style="font-size:12.50px;" fill="#111" >H</text>
<text transform="translate(906.52,127.60) scale(1.0000,1)" style="font-size:12.50px;" fill="#111" >L</text>
<text transform="translate(929.16,127.60) scale(1.0000,1)" style="font-size:12.50px;" fill="#111" >P</text>
<text transform="translate(951.41,127.60) scale(1.0000,1)" style="font-size:12.50px;" fill="#111" >Q</text>
<text transform="translate(974.16,127.60) scale(1.0000,1)" style="font-size:12.50px;" fill="#111" >P</text>
<text transform="translate(997.44,127.60) scale(1.0000,1)" style="font-size:12.50px;" fill="#111" >V</text>
<text transform="translate(1019.84,127.60) scale(1.0000,1)" style="font-size:12.50px;" fill="#111" >S</text>
<text transform="translate(1042.49,127.60) scale(1.0000,1)" style="font-size:12.50px;" fill="#111" >T</text>
<text transform="translate(1061.38,127.60) scale(1.0000,1)" style="font-size:12.50px;" fill="#111" >R</text>
<text id="tx51" mask="url(#mtx51)" transform="translate(722.74,93.00) scale(0.9000,1)" style="font-size:12.60px;font-style:italic;" fill="#111" >17</text>
<text id="tx52" mask="url(#mtx52)" transform="translate(745.51,93.00) scale(0.9000,1)" style="font-size:12.60px;font-style:italic;" fill="#111" >16</text>
<text id="tx53" mask="url(#mtx53)" transform="translate(768.18,93.00) scale(0.9000,1)" style="font-size:12.60px;font-style:italic;" fill="#111" >15</text>
<text id="tx54" mask="url(#mtx54)" transform="translate(791.11,93.00) scale(0.9000,1)" style="font-size:12.60px;font-style:italic;" fill="#111" >14</text>
<text id="tx55" mask="url(#mtx55)" transform="translate(813.54,93.00) scale(0.9000,1)" style="font-size:12.60px;font-style:italic;" fill="#111" >13</text>
<text id="tx56" mask="url(#mtx56)" transform="translate(836.70,93.00) scale(0.9000,1)" style="font-size:12.60px;font-style:italic;" fill="#111" >12</text>
<text id="tx57" mask="url(#mtx57)" transform="translate(859.77,93.00) scale(0.9000,1)" style="font-size:12.60px;font-style:italic;" fill="#111" >11</text>
<text id="tx58" mask="url(#mtx58)" transform="translate(881.69,93.00) scale(0.9000,1)" style="font-size:12.60px;font-style:italic;" fill="#111" >10</text>
<text transform="translate(907.07,93.00) scale(0.9000,1)" style="font-size:12.60px;font-style:italic;" fill="#111" >9</text>
<text transform="translate(930.49,93.00) scale(0.9000,1)" style="font-size:12.60px;font-style:italic;" fill="#111" >8</text>
<text transform="translate(952.34,93.00) scale(0.9000,1)" style="font-size:12.60px;font-style:italic;" fill="#111" >7</text>
<text transform="translate(975.29,93.00) scale(0.9000,1)" style="font-size:12.60px;font-style:italic;" fill="#111" >6</text>
<text transform="translate(998.48,93.00) scale(0.9000,1)" style="font-size:12.60px;font-style:italic;" fill="#111" >5</text>
<text transform="translate(1021.12,93.00) scale(0.9000,1)" style="font-size:12.60px;font-style:italic;" fill="#111" >4</text>
<text transform="translate(1043.54,93.00) scale(0.9000,1)" style="font-size:12.60px;font-style:italic;" fill="#111" >3</text>
<text transform="translate(1063.67,93.00) scale(0.9000,1)" style="font-size:12.60px;font-style:italic;" fill="#111" >2</text>
<text id="tx59" mask="url(#mtx59)" transform="translate(1080.30,93.00) scale(0.9000,1)" style="font-size:12.60px;font-style:italic;" fill="#111" >1</text>
<text id="tx60" mask="url(#mtx60)" transform="translate(706.70,162.00) scale(0.9000,1)" style="font-size:12.60px;font-style:italic;" fill="#111" >1</text>
<text transform="translate(726.77,162.00) scale(0.9000,1)" style="font-size:12.60px;font-style:italic;" fill="#111" >2</text>
<text transform="translate(748.54,162.00) scale(0.9000,1)" style="font-size:12.60px;font-style:italic;" fill="#111" >3</text>
<text transform="translate(771.82,162.00) scale(0.9000,1)" style="font-size:12.60px;font-style:italic;" fill="#111" >4</text>
<text transform="translate(794.28,162.00) scale(0.9000,1)" style="font-size:12.60px;font-style:italic;" fill="#111" >5</text>
<text transform="translate(816.74,162.00) scale(0.9000,1)" style="font-size:12.60px;font-style:italic;" fill="#111" >6</text>
<text transform="translate(838.69,162.00) scale(0.9000,1)" style="font-size:12.60px;font-style:italic;" fill="#111" >7</text>
<text transform="translate(862.34,162.00) scale(0.9000,1)" style="font-size:12.60px;font-style:italic;" fill="#111" >8</text>
<text transform="translate(884.57,162.00) scale(0.9000,1)" style="font-size:12.60px;font-style:italic;" fill="#111" >9</text>
<text id="tx61" mask="url(#mtx61)" transform="translate(903.94,162.00) scale(0.9000,1)" style="font-size:12.60px;font-style:italic;" fill="#111" >10</text>
<text id="tx62" mask="url(#mtx62)" transform="translate(927.77,162.00) scale(0.9000,1)" style="font-size:12.60px;font-style:italic;" fill="#111" >11</text>
<text id="tx63" mask="url(#mtx63)" transform="translate(949.40,162.00) scale(0.9000,1)" style="font-size:12.60px;font-style:italic;" fill="#111" >12</text>
<text id="tx64" mask="url(#mtx64)" transform="translate(971.94,162.00) scale(0.9000,1)" style="font-size:12.60px;font-style:italic;" fill="#111" >13</text>
<text id="tx65" mask="url(#mtx65)" transform="translate(994.91,162.00) scale(0.9000,1)" style="font-size:12.60px;font-style:italic;" fill="#111" >14</text>
<text id="tx66" mask="url(#mtx66)" transform="translate(1017.58,162.00) scale(0.9000,1)" style="font-size:12.60px;font-style:italic;" fill="#111" >15</text>
<text id="tx67" mask="url(#mtx67)" transform="translate(1040.01,162.00) scale(0.9000,1)" style="font-size:12.60px;font-style:italic;" fill="#111" >16</text>
<line x1="831.5" y1="114" x2="831.5" y2="131" stroke="#333" stroke-width="1.6"/>
<line x1="831.2" y1="114.6" x2="854.8" y2="98.2" stroke="#d0344a" stroke-width="2.2"/>
<line x1="832.3" y1="132.8" x2="810.5" y2="150" stroke="#2a8ac2" stroke-width="2.1"/>
<line x1="854.4" y1="114" x2="854.4" y2="131" stroke="#333" stroke-width="1.6"/>
<line x1="854.1" y1="114.6" x2="877.6999999999999" y2="98.2" stroke="#d0344a" stroke-width="2.2"/>
<line x1="855.1999999999999" y1="132.8" x2="833.4" y2="150" stroke="#2a8ac2" stroke-width="2.1"/>
<line x1="877.2" y1="114" x2="877.2" y2="131" stroke="#333" stroke-width="1.6"/>
<line x1="876.9000000000001" y1="114.6" x2="900.5" y2="98.2" stroke="#d0344a" stroke-width="2.2"/>
<line x1="878.0" y1="132.8" x2="856.2" y2="150" stroke="#2a8ac2" stroke-width="2.1"/>
<line x1="899.8" y1="114" x2="899.8" y2="131" stroke="#333" stroke-width="1.6"/>
<line x1="899.5" y1="114.6" x2="923.0999999999999" y2="98.2" stroke="#d0344a" stroke-width="2.2"/>
<line x1="900.5999999999999" y1="132.8" x2="878.8" y2="150" stroke="#2a8ac2" stroke-width="2.1"/>
<line x1="945" y1="114" x2="945" y2="131" stroke="#333" stroke-width="1.6"/>
<line x1="944.7" y1="114.6" x2="968.3" y2="98.2" stroke="#d0344a" stroke-width="2.2"/>
<line x1="945.8" y1="132.8" x2="924" y2="150" stroke="#2a8ac2" stroke-width="2.1"/>
<line x1="990.2" y1="114" x2="990.2" y2="131" stroke="#333" stroke-width="1.6"/>
<line x1="989.9000000000001" y1="114.6" x2="1013.5" y2="98.2" stroke="#d0344a" stroke-width="2.2"/>
<line x1="991.0" y1="132.8" x2="969.2" y2="150" stroke="#2a8ac2" stroke-width="2.1"/>
<line x1="1013.2" y1="114" x2="1013.2" y2="131" stroke="#333" stroke-width="1.6"/>
<line x1="1012.9000000000001" y1="114.6" x2="1036.5" y2="98.2" stroke="#d0344a" stroke-width="2.2"/>
<line x1="1014.0" y1="132.8" x2="992.2" y2="150" stroke="#2a8ac2" stroke-width="2.1"/>
<line x1="1036" y1="114" x2="1036" y2="131" stroke="#333" stroke-width="1.6"/>
<line x1="1035.7" y1="114.6" x2="1059.3" y2="98.2" stroke="#d0344a" stroke-width="2.2"/>
<line x1="1036.8" y1="132.8" x2="1015" y2="150" stroke="#2a8ac2" stroke-width="2.1"/>
<line x1="1058.3" y1="114" x2="1058.3" y2="131" stroke="#333" stroke-width="1.6"/>
<line x1="1059.1" y1="132.8" x2="1037.3" y2="150" stroke="#2a8ac2" stroke-width="2.1"/>
<text transform="translate(686.09,142.80) scale(0.9500,1)" style="font-size:12.60px;font-style:italic;" fill="#111" >c</text>
<text transform="translate(1093.23,109.10) scale(0.9500,1)" style="font-size:12.60px;font-style:italic;" fill="#111" >z</text>
<text transform="translate(743.54,420.00) scale(1.0000,1)" style="font-size:12.50px;" fill="#111" >S</text>
<text transform="translate(764.91,420.00) scale(1.0000,1)" style="font-size:12.50px;" fill="#111" >M</text>
<text transform="translate(789.04,420.00) scale(1.0000,1)" style="font-size:12.50px;" fill="#111" >A</text>
<text transform="translate(811.36,420.00) scale(1.0000,1)" style="font-size:12.50px;" fill="#111" >P</text>
<text transform="translate(833.78,420.00) scale(1.0000,1)" style="font-size:12.50px;" fill="#111" >G</text>
<text transform="translate(856.54,420.00) scale(1.0000,1)" style="font-size:12.50px;" fill="#111" >A</text>
<text transform="translate(879.34,420.00) scale(1.0000,1)" style="font-size:12.50px;" fill="#111" >V</text>
<text transform="translate(901.60,420.00) scale(1.0000,1)" style="font-size:12.50px;" fill="#111" >H</text>
<text transform="translate(924.82,420.00) scale(1.0000,1)" style="font-size:12.50px;" fill="#111" >L</text>
<text transform="translate(947.46,420.00) scale(1.0000,1)" style="font-size:12.50px;" fill="#111" >P</text>
<text transform="translate(969.71,420.00) scale(1.0000,1)" style="font-size:12.50px;" fill="#111" >Q</text>
<text transform="translate(992.46,420.00) scale(1.0000,1)" style="font-size:12.50px;" fill="#111" >P</text>
<text transform="translate(1015.74,420.00) scale(1.0000,1)" style="font-size:12.50px;" fill="#111" >V</text>
<text transform="translate(1038.14,420.00) scale(1.0000,1)" style="font-size:12.50px;" fill="#111" >S</text>
<text transform="translate(1060.79,420.00) scale(1.0000,1)" style="font-size:12.50px;" fill="#111" >T</text>
<text transform="translate(1079.68,420.00) scale(1.0000,1)" style="font-size:12.50px;" fill="#111" >R</text>
<text id="tx68" mask="url(#mtx68)" transform="translate(741.04,387.80) scale(0.9000,1)" style="font-size:12.60px;font-style:italic;" fill="#111" >17</text>
<text id="tx69" mask="url(#mtx69)" transform="translate(763.81,387.80) scale(0.9000,1)" style="font-size:12.60px;font-style:italic;" fill="#111" >16</text>
<text id="tx70" mask="url(#mtx70)" transform="translate(786.48,387.80) scale(0.9000,1)" style="font-size:12.60px;font-style:italic;" fill="#111" >15</text>
<text id="tx71" mask="url(#mtx71)" transform="translate(809.41,387.80) scale(0.9000,1)" style="font-size:12.60px;font-style:italic;" fill="#111" >14</text>
<text id="tx72" mask="url(#mtx72)" transform="translate(831.84,387.80) scale(0.9000,1)" style="font-size:12.60px;font-style:italic;" fill="#111" >13</text>
<text id="tx73" mask="url(#mtx73)" transform="translate(855.00,387.80) scale(0.9000,1)" style="font-size:12.60px;font-style:italic;" fill="#111" >12</text>
<text id="tx74" mask="url(#mtx74)" transform="translate(878.07,387.80) scale(0.9000,1)" style="font-size:12.60px;font-style:italic;" fill="#111" >11</text>
<text id="tx75" mask="url(#mtx75)" transform="translate(899.99,387.80) scale(0.9000,1)" style="font-size:12.60px;font-style:italic;" fill="#111" >10</text>
<text transform="translate(925.37,387.80) scale(0.9000,1)" style="font-size:12.60px;font-style:italic;" fill="#111" >9</text>
<text transform="translate(948.79,387.80) scale(0.9000,1)" style="font-size:12.60px;font-style:italic;" fill="#111" >8</text>
<text transform="translate(970.64,387.80) scale(0.9000,1)" style="font-size:12.60px;font-style:italic;" fill="#111" >7</text>
<text transform="translate(993.59,387.80) scale(0.9000,1)" style="font-size:12.60px;font-style:italic;" fill="#111" >6</text>
<text transform="translate(1016.78,387.80) scale(0.9000,1)" style="font-size:12.60px;font-style:italic;" fill="#111" >5</text>
<text transform="translate(1039.42,387.80) scale(0.9000,1)" style="font-size:12.60px;font-style:italic;" fill="#111" >4</text>
<text transform="translate(1061.84,387.80) scale(0.9000,1)" style="font-size:12.60px;font-style:italic;" fill="#111" >3</text>
<text transform="translate(1081.97,387.80) scale(0.9000,1)" style="font-size:12.60px;font-style:italic;" fill="#111" >2</text>
<text id="tx76" mask="url(#mtx76)" transform="translate(1098.60,387.80) scale(0.9000,1)" style="font-size:12.60px;font-style:italic;" fill="#111" >1</text>
<text id="tx77" mask="url(#mtx77)" transform="translate(725.00,454.80) scale(0.9000,1)" style="font-size:12.60px;font-style:italic;" fill="#111" >1</text>
<text transform="translate(745.07,454.80) scale(0.9000,1)" style="font-size:12.60px;font-style:italic;" fill="#111" >2</text>
<text transform="translate(766.84,454.80) scale(0.9000,1)" style="font-size:12.60px;font-style:italic;" fill="#111" >3</text>
<text transform="translate(790.12,454.80) scale(0.9000,1)" style="font-size:12.60px;font-style:italic;" fill="#111" >4</text>
<text transform="translate(812.58,454.80) scale(0.9000,1)" style="font-size:12.60px;font-style:italic;" fill="#111" >5</text>
<text transform="translate(835.04,454.80) scale(0.9000,1)" style="font-size:12.60px;font-style:italic;" fill="#111" >6</text>
<text transform="translate(856.99,454.80) scale(0.9000,1)" style="font-size:12.60px;font-style:italic;" fill="#111" >7</text>
<text transform="translate(880.64,454.80) scale(0.9000,1)" style="font-size:12.60px;font-style:italic;" fill="#111" >8</text>
<text transform="translate(902.87,454.80) scale(0.9000,1)" style="font-size:12.60px;font-style:italic;" fill="#111" >9</text>
<text id="tx78" mask="url(#mtx78)" transform="translate(922.24,454.80) scale(0.9000,1)" style="font-size:12.60px;font-style:italic;" fill="#111" >10</text>
<text id="tx79" mask="url(#mtx79)" transform="translate(946.07,454.80) scale(0.9000,1)" style="font-size:12.60px;font-style:italic;" fill="#111" >11</text>
<text id="tx80" mask="url(#mtx80)" transform="translate(967.70,454.80) scale(0.9000,1)" style="font-size:12.60px;font-style:italic;" fill="#111" >12</text>
<text id="tx81" mask="url(#mtx81)" transform="translate(990.24,454.80) scale(0.9000,1)" style="font-size:12.60px;font-style:italic;" fill="#111" >13</text>
<text id="tx82" mask="url(#mtx82)" transform="translate(1013.21,454.80) scale(0.9000,1)" style="font-size:12.60px;font-style:italic;" fill="#111" >14</text>
<text id="tx83" mask="url(#mtx83)" transform="translate(1035.88,454.80) scale(0.9000,1)" style="font-size:12.60px;font-style:italic;" fill="#111" >15</text>
<text id="tx84" mask="url(#mtx84)" transform="translate(1058.31,454.80) scale(0.9000,1)" style="font-size:12.60px;font-style:italic;" fill="#111" >16</text>
<line x1="849.8" y1="406.9" x2="849.8" y2="423.9" stroke="#333" stroke-width="1.6"/>
<line x1="849.5" y1="407.5" x2="873.0999999999999" y2="391.09999999999997" stroke="#d0344a" stroke-width="2.2"/>
<line x1="850.5999999999999" y1="425.7" x2="828.8" y2="442.9" stroke="#2a8ac2" stroke-width="2.1"/>
<line x1="872.6999999999999" y1="406.9" x2="872.6999999999999" y2="423.9" stroke="#333" stroke-width="1.6"/>
<line x1="872.4" y1="407.5" x2="895.9999999999999" y2="391.09999999999997" stroke="#d0344a" stroke-width="2.2"/>
<line x1="873.4999999999999" y1="425.7" x2="851.6999999999999" y2="442.9" stroke="#2a8ac2" stroke-width="2.1"/>
<line x1="895.5" y1="406.9" x2="895.5" y2="423.9" stroke="#333" stroke-width="1.6"/>
<line x1="895.2" y1="407.5" x2="918.8" y2="391.09999999999997" stroke="#d0344a" stroke-width="2.2"/>
<line x1="896.3" y1="425.7" x2="874.5" y2="442.9" stroke="#2a8ac2" stroke-width="2.1"/>
<line x1="918.0999999999999" y1="406.9" x2="918.0999999999999" y2="423.9" stroke="#333" stroke-width="1.6"/>
<line x1="917.8" y1="407.5" x2="941.3999999999999" y2="391.09999999999997" stroke="#d0344a" stroke-width="2.2"/>
<line x1="918.8999999999999" y1="425.7" x2="897.0999999999999" y2="442.9" stroke="#2a8ac2" stroke-width="2.1"/>
<line x1="963.3" y1="406.9" x2="963.3" y2="423.9" stroke="#333" stroke-width="1.6"/>
<line x1="963.0" y1="407.5" x2="986.5999999999999" y2="391.09999999999997" stroke="#d0344a" stroke-width="2.2"/>
<line x1="964.0999999999999" y1="425.7" x2="942.3" y2="442.9" stroke="#2a8ac2" stroke-width="2.1"/>
<line x1="1008.5" y1="406.9" x2="1008.5" y2="423.9" stroke="#333" stroke-width="1.6"/>
<line x1="1008.2" y1="407.5" x2="1031.8" y2="391.09999999999997" stroke="#d0344a" stroke-width="2.2"/>
<line x1="1009.3" y1="425.7" x2="987.5" y2="442.9" stroke="#2a8ac2" stroke-width="2.1"/>
<line x1="1031.5" y1="406.9" x2="1031.5" y2="423.9" stroke="#333" stroke-width="1.6"/>
<line x1="1031.2" y1="407.5" x2="1054.8" y2="391.09999999999997" stroke="#d0344a" stroke-width="2.2"/>
<line x1="1032.3" y1="425.7" x2="1010.5" y2="442.9" stroke="#2a8ac2" stroke-width="2.1"/>
<line x1="1054.3" y1="406.9" x2="1054.3" y2="423.9" stroke="#333" stroke-width="1.6"/>
<line x1="1054.0" y1="407.5" x2="1077.6" y2="391.09999999999997" stroke="#d0344a" stroke-width="2.2"/>
<line x1="1055.1" y1="425.7" x2="1033.3" y2="442.9" stroke="#2a8ac2" stroke-width="2.1"/>
<line x1="1076.6" y1="406.9" x2="1076.6" y2="423.9" stroke="#333" stroke-width="1.6"/>
<line x1="1077.3999999999999" y1="425.7" x2="1055.6" y2="442.9" stroke="#2a8ac2" stroke-width="2.1"/>
<text transform="translate(704.39,435.60) scale(0.9500,1)" style="font-size:12.60px;font-style:italic;" fill="#111" >c</text>
<text transform="translate(1111.53,403.90) scale(0.9500,1)" style="font-size:12.60px;font-style:italic;" fill="#111" >z</text>
<line x1="1005" y1="26" x2="1005" y2="39" stroke="#333" stroke-width="1.5"/>
<line x1="1010" y1="49" x2="1019" y2="58" stroke="#333" stroke-width="1.5"/>
<line x1="1023" y1="68" x2="1023" y2="80" stroke="#333" stroke-width="1.5"/>
<line x1="1036.5" y1="49.5" x2="1045" y2="58" stroke="#333" stroke-width="1.5"/>
<line x1="1050" y1="69" x2="1050" y2="80" stroke="#333" stroke-width="1.5"/>
<path d="M1005 12.3 L1012.2 19.5 L1005 26.7 L997.8 19.5 Z" fill="#7a4f9c" stroke="#1a1a1a" stroke-width="1.7"/>
<ellipse cx="1006" cy="44.9" rx="6.3" ry="6.3" fill="#f2e31c" stroke="#1a1a1a" stroke-width="1.8"/>
<rect x="1018.25" y="57.55" width="9.5" height="10.5" fill="#f2e31c" stroke="#1a1a1a" stroke-width="1.8"/>
<ellipse cx="1032.9" cy="45.1" rx="5.3" ry="6.0" fill="#f2e31c" stroke="#1a1a1a" stroke-width="1.8"/>
<rect x="1044.75" y="57.7" width="10.5" height="11" fill="#f2e31c" stroke="#1a1a1a" stroke-width="1.8"/>
<line x1="1053.8" y1="321" x2="1053.8" y2="334" stroke="#333" stroke-width="1.5"/>
<line x1="1057.5" y1="342.5" x2="1066" y2="351" stroke="#333" stroke-width="1.5"/>
<line x1="1071.3" y1="361" x2="1071.3" y2="372.5" stroke="#333" stroke-width="1.5"/>
<line x1="1032" y1="344.5" x2="1039" y2="352.5" stroke="#333" stroke-width="1.5"/>
<line x1="1043.5" y1="363" x2="1043.5" y2="375" stroke="#333" stroke-width="1.5"/>
<path d="M1053.8 307.1 L1061.0 314.3 L1053.8 321.5 L1046.6 314.3 Z" fill="#7a4f9c" stroke="#1a1a1a" stroke-width="1.7"/>
<ellipse cx="1054" cy="338.9" rx="5.0" ry="5.0" fill="#f2e31c" stroke="#1a1a1a" stroke-width="1.8"/>
<rect x="1065.8" y="350.45" width="11" height="10.5" fill="#f2e31c" stroke="#1a1a1a" stroke-width="1.8"/>
<ellipse cx="1027.3" cy="339.9" rx="6.5" ry="6.5" fill="#f2e31c" stroke="#1a1a1a" stroke-width="1.8"/>
<rect x="1038.0" y="352.55" width="11" height="10.5" fill="#f2e31c" stroke="#1a1a1a" stroke-width="1.8"/>
<text transform="translate(1086.00,70.95) scale(0.9977,1)" style="font-size:15.00px;" fill="#bd4646" >2: TOF MSMS 890.70ES+</text>
<text transform="translate(1086.45,319.85) scale(0.9951,1)" style="font-size:15.00px;" fill="#4a8a3a" >2: TOF MSMS 890.70ES+</text>
<text id="tx85" mask="url(#mtx85)" transform="translate(57.16,87.97) scale(1.0564,1)" style="font-size:12.80px;" fill="#bf5858" >x186</text>
<path d="M50.6 84 L55 80.3 L55 87.7 Z" fill="#000"/>
<text id="tx86" mask="url(#mtx86)" transform="translate(15.46,96.36) scale(1.0644,1)" style="font-size:14.20px;" fill="#333" >100</text>
<text transform="translate(32.73,283.56) scale(0.9977,1)" style="font-size:14.20px;" fill="#333" >0</text>
<text transform="translate(41.2,185.5) rotate(-90)" text-anchor="middle" style="font-size:13px" fill="#3c3c3c">%</text>
<text x="1238" y="283" style="font-size:15px;font-style:italic" fill="#111">m/z</text>
<text id="tx87" mask="url(#mtx87)" transform="translate(57.16,336.67) scale(1.0564,1)" style="font-size:12.80px;" fill="#bf5858" >x186</text>
<path d="M50.6 332.7 L55 329.0 L55 336.4 Z" fill="#000"/>
<text id="tx88" mask="url(#mtx88)" transform="translate(15.46,345.06) scale(1.0644,1)" style="font-size:14.20px;" fill="#333" >100</text>
<text transform="translate(32.73,532.26) scale(0.9977,1)" style="font-size:14.20px;" fill="#333" >0</text>
<text transform="translate(41.2,434.2) rotate(-90)" text-anchor="middle" style="font-size:13px" fill="#3c3c3c">%</text>
<text x="1238" y="531.7" style="font-size:15px;font-style:italic" fill="#111">m/z</text>
</svg></body></html>
